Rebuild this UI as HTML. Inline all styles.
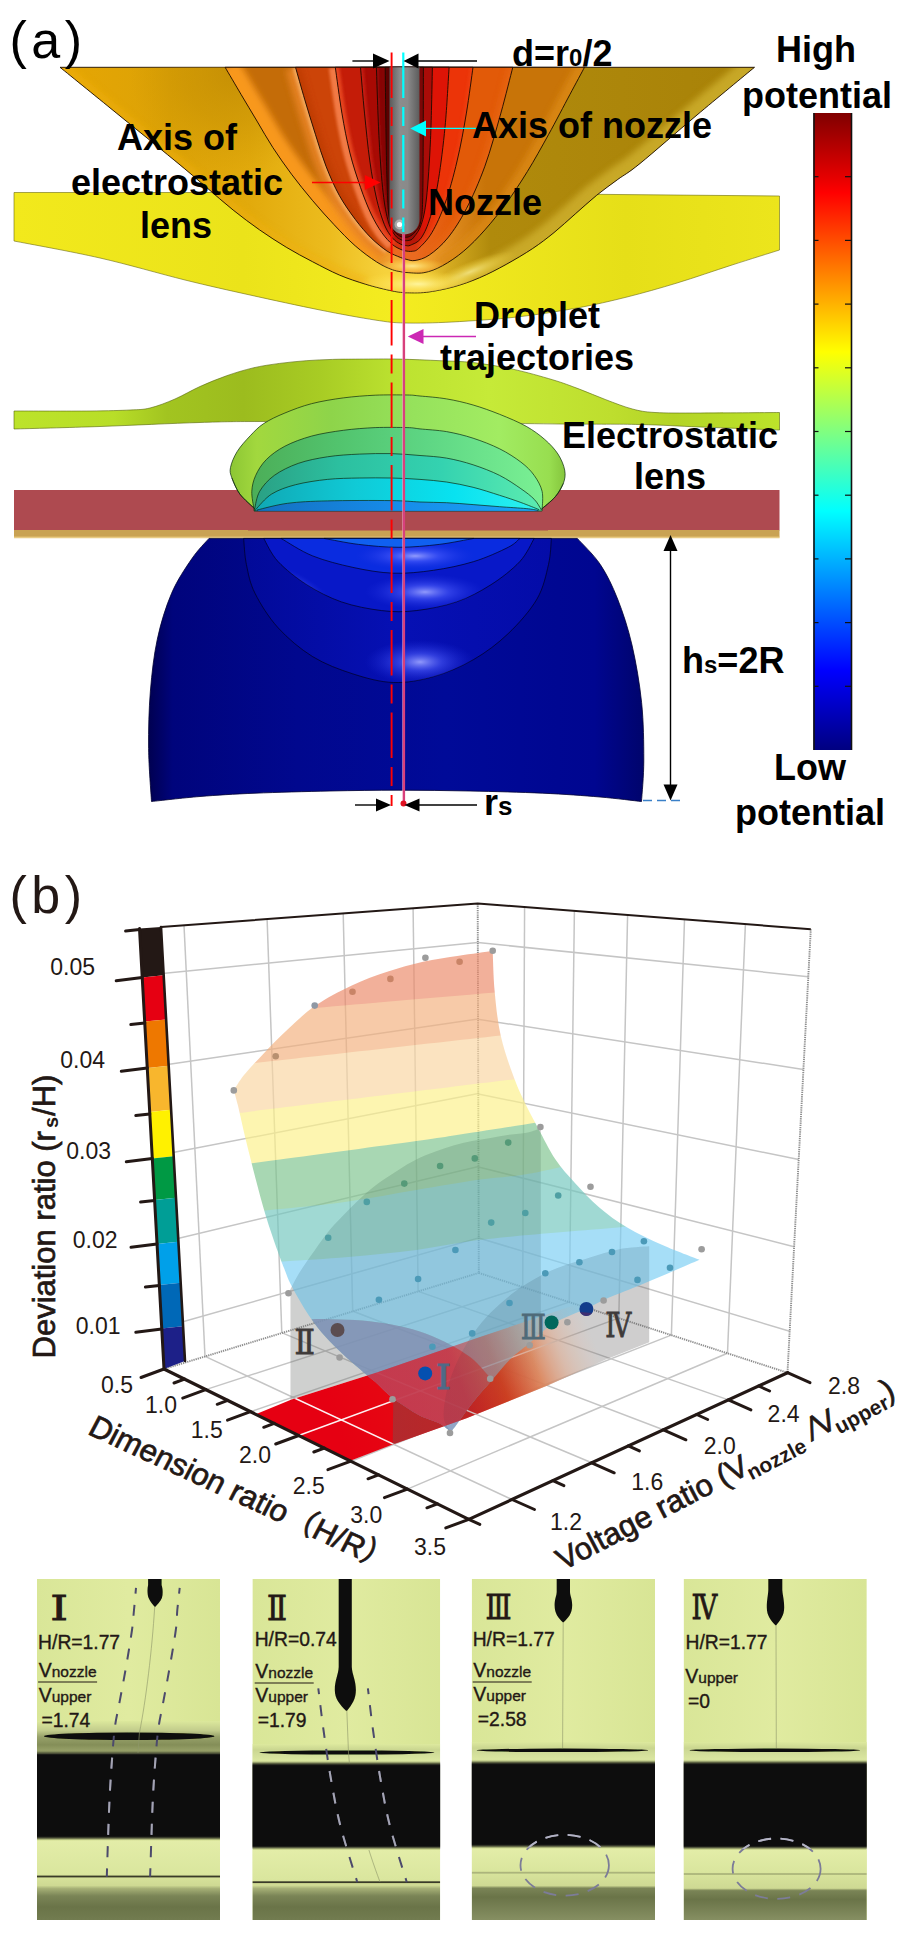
<!DOCTYPE html>
<html><head><meta charset="utf-8"><title>Figure</title>
<style>html,body{margin:0;padding:0;background:#fff}svg{display:block}</style></head>
<body><svg width="904" height="1935" viewBox="0 0 904 1935">
<defs>
<linearGradient id="jet" x1="0" y1="0" x2="0" y2="1">
<stop offset="0" stop-color="#800000"/><stop offset="0.11" stop-color="#ee0000"/><stop offset="0.125" stop-color="#ff0000"/>
<stop offset="0.375" stop-color="#ffff00"/><stop offset="0.5" stop-color="#80ff80"/><stop offset="0.625" stop-color="#00ffff"/>
<stop offset="0.875" stop-color="#0000ff"/><stop offset="1" stop-color="#000080"/></linearGradient>
<linearGradient id="gYel" x1="0" y1="0" x2="1" y2="0">
<stop offset="0" stop-color="#f2e91c"/><stop offset="0.3" stop-color="#ebe31a"/><stop offset="0.5" stop-color="#f4ec20"/><stop offset="0.8" stop-color="#e6df18"/><stop offset="1" stop-color="#ece51c"/></linearGradient>
<linearGradient id="gNoz" x1="0" y1="0" x2="1" y2="0">
<stop offset="0" stop-color="#5a5a5a"/><stop offset="0.35" stop-color="#8c8c8c"/><stop offset="0.6" stop-color="#8a8a8a"/><stop offset="1" stop-color="#5c5c5c"/></linearGradient>
<radialGradient id="gGlow" cx="0.5" cy="0.5" r="0.5"><stop offset="0" stop-color="#fff6a0" stop-opacity="0.95"/><stop offset="0.5" stop-color="#ffe860" stop-opacity="0.5"/><stop offset="1" stop-color="#ffe040" stop-opacity="0"/></radialGradient>
<radialGradient id="gGlowB" cx="0.5" cy="0.5" r="0.5"><stop offset="0" stop-color="#98a0ff" stop-opacity="0.95"/><stop offset="0.4" stop-color="#5060ff" stop-opacity="0.55"/><stop offset="1" stop-color="#2030e0" stop-opacity="0"/></radialGradient>
<linearGradient id="gSheet2" gradientUnits="userSpaceOnUse" x1="14" y1="0" x2="780" y2="0">
<stop offset="0" stop-color="#bce32a"/><stop offset="0.13" stop-color="#b8de28"/><stop offset="0.2" stop-color="#a2c420"/><stop offset="0.3" stop-color="#9cbc1e"/><stop offset="0.4" stop-color="#a8cc24"/><stop offset="0.5" stop-color="#bce230"/><stop offset="0.62" stop-color="#c6ea38"/><stop offset="0.78" stop-color="#bede2e"/><stop offset="0.86" stop-color="#b4d426"/><stop offset="1" stop-color="#bce32a"/></linearGradient>

<linearGradient id="f8" gradientUnits="userSpaceOnUse" x1="60" y1="0" x2="754" y2="0"><stop offset="0.0000" stop-color="#e6a604"/><stop offset="0.0720" stop-color="#e0a404"/><stop offset="0.1585" stop-color="#dba106"/><stop offset="0.2450" stop-color="#e0a80a"/><stop offset="0.3458" stop-color="#e9b616"/><stop offset="0.4323" stop-color="#f1c62a"/><stop offset="0.4971" stop-color="#f8da48"/><stop offset="0.5620" stop-color="#eec632"/><stop offset="0.6340" stop-color="#d0a41c"/><stop offset="0.7205" stop-color="#b48a10"/><stop offset="0.8069" stop-color="#a8820a"/><stop offset="0.9222" stop-color="#a47e08"/><stop offset="1.0000" stop-color="#a88208"/></linearGradient>
<linearGradient id="f7" gradientUnits="userSpaceOnUse" x1="60" y1="0" x2="754" y2="0"><stop offset="0.2378" stop-color="#d07010"/><stop offset="0.2738" stop-color="#ee8c22"/><stop offset="0.3026" stop-color="#e27c16"/><stop offset="0.3458" stop-color="#c8600a"/><stop offset="0.4035" stop-color="#d8700e"/><stop offset="0.4611" stop-color="#f09428"/><stop offset="0.4971" stop-color="#f6a838"/><stop offset="0.5476" stop-color="#ea8c20"/><stop offset="0.6052" stop-color="#d67410"/><stop offset="0.6772" stop-color="#c96a0a"/><stop offset="0.7550" stop-color="#c06808"/></linearGradient>
<linearGradient id="f6" gradientUnits="userSpaceOnUse" x1="60" y1="0" x2="754" y2="0"><stop offset="0.3386" stop-color="#c84808"/><stop offset="0.3602" stop-color="#e66c28"/><stop offset="0.3775" stop-color="#dc5416"/><stop offset="0.4107" stop-color="#c03a08"/><stop offset="0.4611" stop-color="#e05818"/><stop offset="0.4971" stop-color="#f07c28"/><stop offset="0.5331" stop-color="#ee5a14"/><stop offset="0.5908" stop-color="#e84a0c"/><stop offset="0.6513" stop-color="#e04c0a"/></linearGradient>
<linearGradient id="f5" gradientUnits="userSpaceOnUse" x1="60" y1="0" x2="754" y2="0"><stop offset="0.3963" stop-color="#c82410"/><stop offset="0.4107" stop-color="#d83418"/><stop offset="0.4323" stop-color="#c01c0c"/><stop offset="0.4683" stop-color="#d02c10"/><stop offset="0.4971" stop-color="#ee5818"/><stop offset="0.5259" stop-color="#f03010"/><stop offset="0.5620" stop-color="#f02a0c"/><stop offset="0.5951" stop-color="#ea2e0a"/></linearGradient>
<linearGradient id="f4" gradientUnits="userSpaceOnUse" x1="60" y1="0" x2="754" y2="0"><stop offset="0.4323" stop-color="#a81008"/><stop offset="0.4438" stop-color="#c01810"/><stop offset="0.4611" stop-color="#a00c08"/><stop offset="0.4971" stop-color="#e03010"/><stop offset="0.5259" stop-color="#e41408"/><stop offset="0.5605" stop-color="#e21008"/></linearGradient>
<linearGradient id="f3" gradientUnits="userSpaceOnUse" x1="60" y1="0" x2="754" y2="0"><stop offset="0.4553" stop-color="#8c0a08"/><stop offset="0.4640" stop-color="#a81010"/><stop offset="0.4755" stop-color="#7c0606"/><stop offset="0.4971" stop-color="#c82010"/><stop offset="0.5187" stop-color="#b80c08"/><stop offset="0.5360" stop-color="#c00c0a"/></linearGradient>
<linearGradient id="f2" gradientUnits="userSpaceOnUse" x1="60" y1="0" x2="754" y2="0"><stop offset="0.4683" stop-color="#6a0505"/><stop offset="0.4741" stop-color="#5a0303"/><stop offset="0.4971" stop-color="#a01008"/><stop offset="0.5173" stop-color="#7a0505"/><stop offset="0.5231" stop-color="#8a0808"/></linearGradient>
<filter id="fb4" x="-20%" y="-20%" width="140%" height="140%"><feGaussianBlur stdDeviation="3.2"/></filter>
<filter id="fb2" x="-20%" y="-20%" width="140%" height="140%"><feGaussianBlur stdDeviation="1.6"/></filter>
<linearGradient id="g8" gradientUnits="userSpaceOnUse" x1="60" y1="0" x2="754.5" y2="0"><stop offset="0.0000" stop-color="#e6a604"/><stop offset="0.1584" stop-color="#dca206"/><stop offset="0.2736" stop-color="#e2aa0c"/><stop offset="0.3888" stop-color="#ecbc1e"/><stop offset="0.4680" stop-color="#f6d23c"/><stop offset="0.5184" stop-color="#f6d23c"/><stop offset="0.5616" stop-color="#d4aa20"/><stop offset="0.6192" stop-color="#b08a0c"/><stop offset="0.9993" stop-color="#a88208"/></linearGradient>
<radialGradient id="gDk8" gradientUnits="userSpaceOnUse" cx="235" cy="70" r="105"><stop offset="0" stop-color="#b07c00" stop-opacity="0.55"/><stop offset="0.5" stop-color="#b88400" stop-opacity="0.35"/><stop offset="1" stop-color="#c08c00" stop-opacity="0"/></radialGradient>
<linearGradient id="g7" gradientUnits="userSpaceOnUse" x1="225.1" y1="0" x2="584.5" y2="0"><stop offset="0.0000" stop-color="#c46c08"/><stop offset="0.2753" stop-color="#c46c08"/><stop offset="0.4727" stop-color="#f4a234"/><stop offset="0.5284" stop-color="#f4a234"/><stop offset="0.7253" stop-color="#c87408"/><stop offset="1.0000" stop-color="#c87408"/></linearGradient>
<linearGradient id="g6" gradientUnits="userSpaceOnUse" x1="295.5" y1="0" x2="512.8" y2="0"><stop offset="0.0000" stop-color="#cc4408"/><stop offset="0.2772" stop-color="#cc4408"/><stop offset="0.4579" stop-color="#ea6a20"/><stop offset="0.5499" stop-color="#ea6a20"/><stop offset="0.7272" stop-color="#e25a08"/><stop offset="1.0000" stop-color="#e25a08"/></linearGradient>
<linearGradient id="g5" gradientUnits="userSpaceOnUse" x1="335.3" y1="0" x2="473" y2="0"><stop offset="0.0000" stop-color="#c41c08"/><stop offset="0.2784" stop-color="#c41c08"/><stop offset="0.4336" stop-color="#d63410"/><stop offset="0.5788" stop-color="#d63410"/><stop offset="0.7284" stop-color="#ec3408"/><stop offset="1.0000" stop-color="#ec3408"/></linearGradient>
<linearGradient id="g4" gradientUnits="userSpaceOnUse" x1="360.5" y1="0" x2="449.1" y2="0"><stop offset="0.0000" stop-color="#a80a04"/><stop offset="0.2762" stop-color="#a80a04"/><stop offset="0.3894" stop-color="#b81608"/><stop offset="0.6151" stop-color="#b81608"/><stop offset="0.7262" stop-color="#de1406"/><stop offset="1.0000" stop-color="#de1406"/></linearGradient>
<linearGradient id="g3" gradientUnits="userSpaceOnUse" x1="376.4" y1="0" x2="432.4" y2="0"><stop offset="0.0000" stop-color="#860404"/><stop offset="0.2809" stop-color="#860404"/><stop offset="0.3321" stop-color="#980a08"/><stop offset="0.6893" stop-color="#980a08"/><stop offset="0.7309" stop-color="#aa0c08"/><stop offset="1.0000" stop-color="#aa0c08"/></linearGradient>
<linearGradient id="g2" gradientUnits="userSpaceOnUse" x1="385.2" y1="0" x2="423.4" y2="0"><stop offset="0.0000" stop-color="#5c0000"/><stop offset="0.2851" stop-color="#5c0000"/><stop offset="0.2565" stop-color="#700404"/><stop offset="0.7801" stop-color="#700404"/><stop offset="0.7351" stop-color="#7c0606"/><stop offset="1.0000" stop-color="#7c0606"/></linearGradient>
<linearGradient id="d1" gradientUnits="userSpaceOnUse" x1="230" y1="0" x2="566" y2="0"><stop offset="0" stop-color="#8cc634"/><stop offset="0.08" stop-color="#a2d83e"/><stop offset="0.3" stop-color="#8ed44a"/><stop offset="0.55" stop-color="#96e25c"/><stop offset="0.8" stop-color="#a2ec62"/><stop offset="0.95" stop-color="#98de50"/><stop offset="1" stop-color="#84c43c"/></linearGradient>
<linearGradient id="d2" gradientUnits="userSpaceOnUse" x1="252" y1="0" x2="543" y2="0"><stop offset="0" stop-color="#4cae58"/><stop offset="0.3" stop-color="#52c46e"/><stop offset="0.6" stop-color="#5ed684"/><stop offset="1" stop-color="#7af094"/></linearGradient>
<linearGradient id="d3" gradientUnits="userSpaceOnUse" x1="255" y1="0" x2="541" y2="0"><stop offset="0" stop-color="#2aa084"/><stop offset="0.3" stop-color="#2cc0a0"/><stop offset="0.65" stop-color="#34d2b0"/><stop offset="1" stop-color="#5cecb0"/></linearGradient>
<linearGradient id="d4" gradientUnits="userSpaceOnUse" x1="256" y1="0" x2="539" y2="0"><stop offset="0" stop-color="#10a8b4"/><stop offset="0.35" stop-color="#10cad6"/><stop offset="0.7" stop-color="#08e2f0"/><stop offset="1" stop-color="#30f0ee"/></linearGradient>
<linearGradient id="d5" gradientUnits="userSpaceOnUse" x1="257" y1="0" x2="538" y2="0"><stop offset="0" stop-color="#1470c0"/><stop offset="0.5" stop-color="#168cea"/><stop offset="1" stop-color="#1ca4f4"/></linearGradient>
<linearGradient id="b0" gradientUnits="userSpaceOnUse" x1="148" y1="0" x2="644" y2="0"><stop offset="0" stop-color="#000050"/><stop offset="0.05" stop-color="#00047c"/><stop offset="0.3" stop-color="#01088e"/><stop offset="0.6" stop-color="#000a98"/><stop offset="0.9" stop-color="#000690"/><stop offset="1" stop-color="#00046c"/></linearGradient>
<linearGradient id="bA" gradientUnits="userSpaceOnUse" x1="243" y1="0" x2="552" y2="0"><stop offset="0" stop-color="#020a98"/><stop offset="0.5" stop-color="#0610b4"/><stop offset="1" stop-color="#040ca8"/></linearGradient>
<linearGradient id="gRed" gradientUnits="userSpaceOnUse" x1="350" y1="1461" x2="640" y2="1346"><stop offset="0" stop-color="#e60012"/><stop offset="0.42" stop-color="#e60f12"/><stop offset="0.545" stop-color="#e73e1a"/><stop offset="0.665" stop-color="#ee8c5c" stop-opacity="0.9"/><stop offset="0.76" stop-color="#f4b898" stop-opacity="0.5"/><stop offset="0.87" stop-color="#f6d0bc" stop-opacity="0"/></linearGradient>
<linearGradient id="gWl" gradientUnits="userSpaceOnUse" x1="350" y1="1461" x2="640" y2="1346"><stop offset="0" stop-color="#fff" stop-opacity="0.95"/><stop offset="0.5" stop-color="#fff" stop-opacity="0.9"/><stop offset="0.8" stop-color="#fff" stop-opacity="0"/></linearGradient>
<linearGradient id="gDull" gradientUnits="userSpaceOnUse" x1="392" y1="0" x2="540" y2="0"><stop offset="0" stop-color="#7a6a60" stop-opacity="0.36"/><stop offset="0.45" stop-color="#7a6a60" stop-opacity="0.28"/><stop offset="1" stop-color="#7a6a60" stop-opacity="0"/></linearGradient>
<linearGradient id="pbg" x1="0" y1="0" x2="1" y2="0"><stop offset="0" stop-color="#d9e698"/><stop offset="0.5" stop-color="#e0eba0"/><stop offset="1" stop-color="#d8e595"/></linearGradient>
<filter id="bl1" x="-5%" y="-50%" width="110%" height="200%"><feGaussianBlur stdDeviation="1.1"/></filter>
<filter id="bl2" x="-5%" y="-50%" width="110%" height="200%"><feGaussianBlur stdDeviation="0.7"/></filter>
<linearGradient id="sh0" gradientUnits="userSpaceOnUse" x1="0" y1="1721.0" x2="0" y2="1752.8"><stop offset="0" stop-color="#dce89c"/><stop offset="0.3" stop-color="#c2cc8c"/><stop offset="0.5" stop-color="#98a26a"/><stop offset="0.75" stop-color="#848e58"/><stop offset="1" stop-color="#9ea86e"/></linearGradient>
<linearGradient id="lz0" gradientUnits="userSpaceOnUse" x1="0" y1="1840.5" x2="0" y2="1920"><stop offset="0" stop-color="#e3eda8"/><stop offset="0.415" stop-color="#dae69e"/><stop offset="0.566" stop-color="#ced993"/><stop offset="0.604" stop-color="#a6b076"/><stop offset="0.698" stop-color="#7a8456"/><stop offset="0.836" stop-color="#6a7448"/><stop offset="1" stop-color="#727c50"/></linearGradient>
<linearGradient id="sh1" gradientUnits="userSpaceOnUse" x1="0" y1="1744.0" x2="0" y2="1763.3"><stop offset="0" stop-color="#dde99e"/><stop offset="0.3" stop-color="#cad690"/><stop offset="0.5" stop-color="#d0dc98"/><stop offset="0.85" stop-color="#dae6a0"/><stop offset="1" stop-color="#c6d28e"/></linearGradient>
<linearGradient id="lz1" gradientUnits="userSpaceOnUse" x1="0" y1="1850.0" x2="0" y2="1920"><stop offset="0" stop-color="#e3eda8"/><stop offset="0.417" stop-color="#dae69e"/><stop offset="0.507" stop-color="#ced993"/><stop offset="0.550" stop-color="#a6b076"/><stop offset="0.657" stop-color="#7a8456"/><stop offset="0.814" stop-color="#6a7448"/><stop offset="1" stop-color="#727c50"/></linearGradient>
<linearGradient id="sh2" gradientUnits="userSpaceOnUse" x1="0" y1="1742.0" x2="0" y2="1762.3"><stop offset="0" stop-color="#dde99e"/><stop offset="0.3" stop-color="#cad690"/><stop offset="0.5" stop-color="#d0dc98"/><stop offset="0.85" stop-color="#dae6a0"/><stop offset="1" stop-color="#c6d28e"/></linearGradient>
<linearGradient id="lz2" gradientUnits="userSpaceOnUse" x1="0" y1="1848.6" x2="0" y2="1920"><stop offset="0" stop-color="#e3eda8"/><stop offset="0.296" stop-color="#dae69e"/><stop offset="0.521" stop-color="#ced993"/><stop offset="0.535" stop-color="#a6b076"/><stop offset="0.555" stop-color="#7a8456"/><stop offset="0.678" stop-color="#6a7448"/><stop offset="1" stop-color="#868f62"/></linearGradient>
<linearGradient id="sh3" gradientUnits="userSpaceOnUse" x1="0" y1="1742.0" x2="0" y2="1762.3"><stop offset="0" stop-color="#dde99e"/><stop offset="0.3" stop-color="#cad690"/><stop offset="0.5" stop-color="#d0dc98"/><stop offset="0.85" stop-color="#dae6a0"/><stop offset="1" stop-color="#c6d28e"/></linearGradient>
<linearGradient id="lz3" gradientUnits="userSpaceOnUse" x1="0" y1="1850.0" x2="0" y2="1920"><stop offset="0" stop-color="#e3eda8"/><stop offset="0.300" stop-color="#dae69e"/><stop offset="0.547" stop-color="#ced993"/><stop offset="0.561" stop-color="#a6b076"/><stop offset="0.581" stop-color="#7a8456"/><stop offset="0.707" stop-color="#6a7448"/><stop offset="1" stop-color="#868f62"/></linearGradient></defs>
<rect width="904" height="1935" fill="#fff"/>
<path d="M14,192.5 L400,192.5 L779.5,196 L779.5,250.0C771.6,252.5 749.1,259.5 732.0,265.0C714.9,270.5 694.5,277.7 677.0,283.0C659.5,288.3 643.7,292.8 627.0,297.0C610.3,301.2 595.3,304.7 577.0,308.0C558.7,311.3 537.8,314.7 517.0,317.0C496.2,319.3 470.7,321.0 452.0,322.0C433.3,323.0 417.8,323.3 405.0,323.0C392.2,322.7 389.2,322.2 375.0,320.0C360.8,317.8 340.8,314.2 320.0,310.0C299.2,305.8 272.5,300.0 250.0,295.0C227.5,290.0 210.0,286.2 185.0,280.0C160.0,273.8 128.5,264.5 100.0,258.0C71.5,251.5 28.3,243.8 14.0,241.0Z" fill="url(#gYel)" stroke="#6a6a10" stroke-width="0.6"/>
<path d="M60.0,67.3C70.0,75.4 100.0,99.7 120.0,116.0C140.0,132.3 165.6,153.0 180.0,164.9C194.4,176.8 197.7,179.9 206.5,187.4C215.3,194.9 224.2,202.9 233.1,210.0C241.9,217.1 250.8,223.7 259.6,229.9C268.5,236.1 277.4,241.9 286.2,247.2C295.0,252.5 303.8,257.2 312.7,261.8C321.6,266.4 330.4,271.2 339.3,275.0C348.2,278.8 357.0,281.6 365.8,284.3C374.6,287.0 385.8,289.6 392.4,291.0C399.0,292.4 403.4,292.5 405.6,292.8C409.1,292.7 418.6,293.3 426.5,292.3C434.4,291.3 444.2,289.4 453.1,287.0C462.0,284.6 470.8,281.5 479.6,277.7C488.5,273.9 497.3,269.3 506.2,264.4C515.0,259.5 524.7,253.8 532.7,248.5C540.7,243.2 546.9,238.3 554.0,232.6C561.1,226.8 568.1,220.2 575.2,214.0C582.3,207.8 589.4,201.2 596.5,195.4C603.6,189.7 610.5,184.8 617.7,179.5C625.0,174.2 626.8,174.2 640.0,163.5C653.2,152.8 677.9,131.0 697.0,115.0C716.1,99.0 744.9,75.2 754.5,67.3Z" fill="url(#g8)"/>
<clipPath id="cb8"><path d="M60.0,67.3C70.0,75.4 100.0,99.7 120.0,116.0C140.0,132.3 165.6,153.0 180.0,164.9C194.4,176.8 197.7,179.9 206.5,187.4C215.3,194.9 224.2,202.9 233.1,210.0C241.9,217.1 250.8,223.7 259.6,229.9C268.5,236.1 277.4,241.9 286.2,247.2C295.0,252.5 303.8,257.2 312.7,261.8C321.6,266.4 330.4,271.2 339.3,275.0C348.2,278.8 357.0,281.6 365.8,284.3C374.6,287.0 385.8,289.6 392.4,291.0C399.0,292.4 403.4,292.5 405.6,292.8C409.1,292.7 418.6,293.3 426.5,292.3C434.4,291.3 444.2,289.4 453.1,287.0C462.0,284.6 470.8,281.5 479.6,277.7C488.5,273.9 497.3,269.3 506.2,264.4C515.0,259.5 524.7,253.8 532.7,248.5C540.7,243.2 546.9,238.3 554.0,232.6C561.1,226.8 568.1,220.2 575.2,214.0C582.3,207.8 589.4,201.2 596.5,195.4C603.6,189.7 610.5,184.8 617.7,179.5C625.0,174.2 626.8,174.2 640.0,163.5C653.2,152.8 677.9,131.0 697.0,115.0C716.1,99.0 744.9,75.2 754.5,67.3Z"/></clipPath>
<g clip-path="url(#cb8)"><path d="M453.1,287.0C457.5,285.4 470.8,281.5 479.6,277.7C488.5,273.9 497.3,269.3 506.2,264.4C515.0,259.5 524.7,253.8 532.7,248.5C540.7,243.2 546.9,238.3 554.0,232.6C561.1,226.8 568.1,220.2 575.2,214.0C582.3,207.8 589.4,201.2 596.5,195.4C603.6,189.7 610.5,184.8 617.7,179.5C625.0,174.2 626.8,174.2 640.0,163.5C653.2,152.8 677.9,131.0 697.0,115.0C716.1,99.0 744.9,75.2 754.5,67.3" fill="none" stroke="#d2b430" stroke-width="26" opacity="0.75" filter="url(#fb4)"/><path d="M60.0,67.3C70.0,75.4 100.0,99.7 120.0,116.0C140.0,132.3 165.6,153.0 180.0,164.9C194.4,176.8 197.7,179.9 206.5,187.4C215.3,194.9 224.2,202.9 233.1,210.0C241.9,217.1 250.8,223.7 259.6,229.9C268.5,236.1 277.4,241.9 286.2,247.2C295.0,252.5 303.8,257.2 312.7,261.8C321.6,266.4 330.4,271.2 339.3,275.0C348.2,278.8 361.4,282.8 365.8,284.3" fill="none" stroke="#f0b008" stroke-width="14" opacity="0.5" filter="url(#fb4)"/></g>
<path d="M60.0,67.3C70.0,75.4 100.0,99.7 120.0,116.0C140.0,132.3 165.6,153.0 180.0,164.9C194.4,176.8 197.7,179.9 206.5,187.4C215.3,194.9 224.2,202.9 233.1,210.0C241.9,217.1 250.8,223.7 259.6,229.9C268.5,236.1 277.4,241.9 286.2,247.2C295.0,252.5 303.8,257.2 312.7,261.8C321.6,266.4 330.4,271.2 339.3,275.0C348.2,278.8 357.0,281.6 365.8,284.3C374.6,287.0 385.8,289.6 392.4,291.0C399.0,292.4 403.4,292.5 405.6,292.8C409.1,292.7 418.6,293.3 426.5,292.3C434.4,291.3 444.2,289.4 453.1,287.0C462.0,284.6 470.8,281.5 479.6,277.7C488.5,273.9 497.3,269.3 506.2,264.4C515.0,259.5 524.7,253.8 532.7,248.5C540.7,243.2 546.9,238.3 554.0,232.6C561.1,226.8 568.1,220.2 575.2,214.0C582.3,207.8 589.4,201.2 596.5,195.4C603.6,189.7 610.5,184.8 617.7,179.5C625.0,174.2 626.8,174.2 640.0,163.5C653.2,152.8 677.9,131.0 697.0,115.0C716.1,99.0 744.9,75.2 754.5,67.3Z" fill="none" stroke="#1a0a00" stroke-width="0.9"/>
<clipPath id="cp8"><path d="M60.0,67.3C70.0,75.4 100.0,99.7 120.0,116.0C140.0,132.3 165.6,153.0 180.0,164.9C194.4,176.8 197.7,179.9 206.5,187.4C215.3,194.9 224.2,202.9 233.1,210.0C241.9,217.1 250.8,223.7 259.6,229.9C268.5,236.1 277.4,241.9 286.2,247.2C295.0,252.5 303.8,257.2 312.7,261.8C321.6,266.4 330.4,271.2 339.3,275.0C348.2,278.8 357.0,281.6 365.8,284.3C374.6,287.0 385.8,289.6 392.4,291.0C399.0,292.4 403.4,292.5 405.6,292.8C409.1,292.7 418.6,293.3 426.5,292.3C434.4,291.3 444.2,289.4 453.1,287.0C462.0,284.6 470.8,281.5 479.6,277.7C488.5,273.9 497.3,269.3 506.2,264.4C515.0,259.5 524.7,253.8 532.7,248.5C540.7,243.2 546.9,238.3 554.0,232.6C561.1,226.8 568.1,220.2 575.2,214.0C582.3,207.8 589.4,201.2 596.5,195.4C603.6,189.7 610.5,184.8 617.7,179.5C625.0,174.2 626.8,174.2 640.0,163.5C653.2,152.8 677.9,131.0 697.0,115.0C716.1,99.0 744.9,75.2 754.5,67.3Z"/></clipPath>
<g clip-path="url(#cp8)"><ellipse cx="418" cy="284" rx="62" ry="13" fill="url(#gGlow)"/><ellipse cx="470" cy="272" rx="50" ry="10" transform="rotate(-22 470 272)" fill="url(#gGlow)" opacity="0.7"/></g>
<g clip-path="url(#cp8)"><circle cx="235" cy="70" r="105" fill="url(#gDk8)"/></g>
<path d="M225.1,67.3C227.8,71.8 235.8,85.5 241.1,94.5C246.4,103.5 251.7,112.2 257.0,121.1C262.3,129.9 267.1,138.8 272.9,147.6C278.6,156.4 284.9,165.3 291.5,174.2C298.1,183.0 305.6,192.3 312.7,200.7C319.8,209.1 326.9,217.1 334.0,224.6C341.1,232.1 348.1,239.6 355.2,245.8C362.3,252.0 370.2,257.8 376.4,261.8C382.6,265.8 387.5,267.9 392.4,269.7C397.3,271.5 403.4,272.0 405.6,272.5C408.7,272.5 417.8,273.8 423.9,272.7C430.0,271.6 435.9,269.3 442.5,265.7C449.1,262.1 456.6,257.1 463.7,251.1C470.8,245.1 477.8,237.9 484.9,229.9C492.0,221.9 499.1,213.0 506.2,203.3C513.3,193.6 520.3,183.0 527.4,171.5C534.5,160.0 541.6,147.1 548.7,134.3C555.8,121.5 563.9,105.7 569.9,94.5C575.9,83.3 582.1,71.8 584.5,67.3Z" fill="url(#g7)"/>
<clipPath id="cb7"><path d="M225.1,67.3C227.8,71.8 235.8,85.5 241.1,94.5C246.4,103.5 251.7,112.2 257.0,121.1C262.3,129.9 267.1,138.8 272.9,147.6C278.6,156.4 284.9,165.3 291.5,174.2C298.1,183.0 305.6,192.3 312.7,200.7C319.8,209.1 326.9,217.1 334.0,224.6C341.1,232.1 348.1,239.6 355.2,245.8C362.3,252.0 370.2,257.8 376.4,261.8C382.6,265.8 387.5,267.9 392.4,269.7C397.3,271.5 403.4,272.0 405.6,272.5C408.7,272.5 417.8,273.8 423.9,272.7C430.0,271.6 435.9,269.3 442.5,265.7C449.1,262.1 456.6,257.1 463.7,251.1C470.8,245.1 477.8,237.9 484.9,229.9C492.0,221.9 499.1,213.0 506.2,203.3C513.3,193.6 520.3,183.0 527.4,171.5C534.5,160.0 541.6,147.1 548.7,134.3C555.8,121.5 563.9,105.7 569.9,94.5C575.9,83.3 582.1,71.8 584.5,67.3Z"/></clipPath>
<g clip-path="url(#cb7)"><path d="M225.1,67.3C227.8,71.8 235.8,85.5 241.1,94.5C246.4,103.5 251.7,112.2 257.0,121.1C262.3,129.9 267.1,138.8 272.9,147.6C278.6,156.4 284.9,165.3 291.5,174.2C298.1,183.0 305.6,192.3 312.7,200.7C319.8,209.1 326.9,217.1 334.0,224.6C341.1,232.1 348.1,239.6 355.2,245.8C362.3,252.0 372.9,259.1 376.4,261.8" fill="none" stroke="#f8981e" stroke-width="30" opacity="1" filter="url(#fb4)"/><path d="M295.5,67.3C297.1,72.7 301.5,88.6 304.8,99.8C308.1,111.0 311.9,123.2 315.4,134.3C318.9,145.4 322.0,156.0 326.0,166.2C330.0,176.4 334.4,186.6 339.3,195.4C344.2,204.2 349.9,212.2 355.2,219.3C360.5,226.4 365.8,232.6 371.1,237.9C376.4,243.2 384.4,248.9 387.1,251.1" fill="none" stroke="#e88428" stroke-width="20" opacity="0.9" filter="url(#fb4)"/><path d="M295.5,67.3C297.1,72.7 301.5,88.6 304.8,99.8C308.1,111.0 311.9,123.2 315.4,134.3C318.9,145.4 322.0,156.0 326.0,166.2C330.0,176.4 334.4,186.6 339.3,195.4C344.2,204.2 349.9,212.2 355.2,219.3C360.5,226.4 365.8,232.6 371.1,237.9C376.4,243.2 384.4,248.9 387.1,251.1" fill="none" stroke="#f6ac62" stroke-width="6" opacity="0.9" filter="url(#fb2)"/><path d="M442.5,265.7C446.0,263.3 456.6,257.1 463.7,251.1C470.8,245.1 477.8,237.9 484.9,229.9C492.0,221.9 499.1,213.0 506.2,203.3C513.3,193.6 520.3,183.0 527.4,171.5C534.5,160.0 541.6,147.1 548.7,134.3C555.8,121.5 563.9,105.7 569.9,94.5C575.9,83.3 582.1,71.8 584.5,67.3" fill="none" stroke="#dc8a18" stroke-width="18" opacity="0.8" filter="url(#fb4)"/></g>
<path d="M225.1,67.3C227.8,71.8 235.8,85.5 241.1,94.5C246.4,103.5 251.7,112.2 257.0,121.1C262.3,129.9 267.1,138.8 272.9,147.6C278.6,156.4 284.9,165.3 291.5,174.2C298.1,183.0 305.6,192.3 312.7,200.7C319.8,209.1 326.9,217.1 334.0,224.6C341.1,232.1 348.1,239.6 355.2,245.8C362.3,252.0 370.2,257.8 376.4,261.8C382.6,265.8 387.5,267.9 392.4,269.7C397.3,271.5 403.4,272.0 405.6,272.5C408.7,272.5 417.8,273.8 423.9,272.7C430.0,271.6 435.9,269.3 442.5,265.7C449.1,262.1 456.6,257.1 463.7,251.1C470.8,245.1 477.8,237.9 484.9,229.9C492.0,221.9 499.1,213.0 506.2,203.3C513.3,193.6 520.3,183.0 527.4,171.5C534.5,160.0 541.6,147.1 548.7,134.3C555.8,121.5 563.9,105.7 569.9,94.5C575.9,83.3 582.1,71.8 584.5,67.3Z" fill="none" stroke="#1a0a00" stroke-width="0.9"/>
<g clip-path="url(#cb7)"><ellipse cx="412" cy="266" rx="34" ry="8" fill="url(#gGlow)" opacity="0.85"/></g>
<path d="M295.5,67.3C297.1,72.7 301.5,88.6 304.8,99.8C308.1,111.0 311.9,123.2 315.4,134.3C318.9,145.4 322.0,156.0 326.0,166.2C330.0,176.4 334.4,186.6 339.3,195.4C344.2,204.2 349.9,212.2 355.2,219.3C360.5,226.4 365.8,232.6 371.1,237.9C376.4,243.2 382.2,247.8 387.1,251.1C392.0,254.3 397.0,256.0 400.3,257.4C403.6,258.8 405.9,259.1 407.0,259.5C408.3,259.7 411.3,261.2 415.0,260.5C418.7,259.8 423.7,258.9 429.2,255.1C434.7,251.3 441.6,245.6 447.8,237.9C454.0,230.2 460.2,220.6 466.4,208.7C472.6,196.8 479.1,182.1 484.9,166.2C490.6,150.3 496.2,129.6 500.9,113.1C505.5,96.6 510.8,74.9 512.8,67.3Z" fill="url(#g6)"/>
<clipPath id="cb6"><path d="M295.5,67.3C297.1,72.7 301.5,88.6 304.8,99.8C308.1,111.0 311.9,123.2 315.4,134.3C318.9,145.4 322.0,156.0 326.0,166.2C330.0,176.4 334.4,186.6 339.3,195.4C344.2,204.2 349.9,212.2 355.2,219.3C360.5,226.4 365.8,232.6 371.1,237.9C376.4,243.2 382.2,247.8 387.1,251.1C392.0,254.3 397.0,256.0 400.3,257.4C403.6,258.8 405.9,259.1 407.0,259.5C408.3,259.7 411.3,261.2 415.0,260.5C418.7,259.8 423.7,258.9 429.2,255.1C434.7,251.3 441.6,245.6 447.8,237.9C454.0,230.2 460.2,220.6 466.4,208.7C472.6,196.8 479.1,182.1 484.9,166.2C490.6,150.3 496.2,129.6 500.9,113.1C505.5,96.6 510.8,74.9 512.8,67.3Z"/></clipPath>
<g clip-path="url(#cb6)"><path d="M295.5,67.3C297.1,72.7 301.5,88.6 304.8,99.8C308.1,111.0 311.9,123.2 315.4,134.3C318.9,145.4 322.0,156.0 326.0,166.2C330.0,176.4 334.4,186.6 339.3,195.4C344.2,204.2 349.9,212.2 355.2,219.3C360.5,226.4 365.8,232.6 371.1,237.9C376.4,243.2 384.4,248.9 387.1,251.1" fill="none" stroke="#bc3a06" stroke-width="10" opacity="0.8" filter="url(#fb4)"/><path d="M335.3,67.3C336.4,74.9 339.5,98.8 341.9,113.1C344.3,127.4 346.8,140.5 349.9,152.9C353.0,165.3 357.0,177.2 360.5,187.4C364.0,197.6 367.6,206.5 371.1,214.0C374.7,221.5 378.2,227.5 381.8,232.6C385.4,237.7 390.6,242.5 392.4,244.5" fill="none" stroke="#f47e4a" stroke-width="13" opacity="0.95" filter="url(#fb2)"/><path d="M429.2,255.1C432.3,252.2 441.6,245.6 447.8,237.9C454.0,230.2 460.2,220.6 466.4,208.7C472.6,196.8 479.1,182.1 484.9,166.2C490.6,150.3 496.2,129.6 500.9,113.1C505.5,96.6 510.8,74.9 512.8,67.3" fill="none" stroke="#ea6a14" stroke-width="10" opacity="0.6" filter="url(#fb4)"/></g>
<path d="M295.5,67.3C297.1,72.7 301.5,88.6 304.8,99.8C308.1,111.0 311.9,123.2 315.4,134.3C318.9,145.4 322.0,156.0 326.0,166.2C330.0,176.4 334.4,186.6 339.3,195.4C344.2,204.2 349.9,212.2 355.2,219.3C360.5,226.4 365.8,232.6 371.1,237.9C376.4,243.2 382.2,247.8 387.1,251.1C392.0,254.3 397.0,256.0 400.3,257.4C403.6,258.8 405.9,259.1 407.0,259.5C408.3,259.7 411.3,261.2 415.0,260.5C418.7,259.8 423.7,258.9 429.2,255.1C434.7,251.3 441.6,245.6 447.8,237.9C454.0,230.2 460.2,220.6 466.4,208.7C472.6,196.8 479.1,182.1 484.9,166.2C490.6,150.3 496.2,129.6 500.9,113.1C505.5,96.6 510.8,74.9 512.8,67.3Z" fill="none" stroke="#1a0a00" stroke-width="0.9"/>
<path d="M335.3,67.3C336.4,74.9 339.5,98.8 341.9,113.1C344.3,127.4 346.8,140.5 349.9,152.9C353.0,165.3 357.0,177.2 360.5,187.4C364.0,197.6 367.6,206.5 371.1,214.0C374.7,221.5 378.2,227.5 381.8,232.6C385.4,237.7 389.2,241.7 392.4,244.5C395.6,247.3 398.7,248.4 401.0,249.5C403.3,250.6 405.2,250.8 406.0,251.0C407.0,251.1 409.9,251.7 412.0,251.3C414.1,250.9 415.3,251.6 418.6,248.5C421.9,245.4 427.5,240.1 431.9,232.6C436.3,225.1 440.9,215.2 445.1,203.3C449.3,191.4 453.6,175.9 457.1,160.9C460.7,145.9 463.8,128.7 466.4,113.1C469.0,97.5 471.9,74.9 473.0,67.3Z" fill="url(#g5)"/>
<clipPath id="cb5"><path d="M335.3,67.3C336.4,74.9 339.5,98.8 341.9,113.1C344.3,127.4 346.8,140.5 349.9,152.9C353.0,165.3 357.0,177.2 360.5,187.4C364.0,197.6 367.6,206.5 371.1,214.0C374.7,221.5 378.2,227.5 381.8,232.6C385.4,237.7 389.2,241.7 392.4,244.5C395.6,247.3 398.7,248.4 401.0,249.5C403.3,250.6 405.2,250.8 406.0,251.0C407.0,251.1 409.9,251.7 412.0,251.3C414.1,250.9 415.3,251.6 418.6,248.5C421.9,245.4 427.5,240.1 431.9,232.6C436.3,225.1 440.9,215.2 445.1,203.3C449.3,191.4 453.6,175.9 457.1,160.9C460.7,145.9 463.8,128.7 466.4,113.1C469.0,97.5 471.9,74.9 473.0,67.3Z"/></clipPath>
<g clip-path="url(#cb5)"><path d="M335.3,67.3C336.4,74.9 339.5,98.8 341.9,113.1C344.3,127.4 346.8,140.5 349.9,152.9C353.0,165.3 357.0,177.2 360.5,187.4C364.0,197.6 367.6,206.5 371.1,214.0C374.7,221.5 378.2,227.5 381.8,232.6C385.4,237.7 390.6,242.5 392.4,244.5" fill="none" stroke="#ea4a22" stroke-width="8" opacity="0.9" filter="url(#fb2)"/><path d="M418.6,248.5C420.8,245.8 427.5,240.1 431.9,232.6C436.3,225.1 440.9,215.2 445.1,203.3C449.3,191.4 453.6,175.9 457.1,160.9C460.7,145.9 463.8,128.7 466.4,113.1C469.0,97.5 471.9,74.9 473.0,67.3" fill="none" stroke="#f24a18" stroke-width="6" opacity="0.5" filter="url(#fb2)"/></g>
<path d="M335.3,67.3C336.4,74.9 339.5,98.8 341.9,113.1C344.3,127.4 346.8,140.5 349.9,152.9C353.0,165.3 357.0,177.2 360.5,187.4C364.0,197.6 367.6,206.5 371.1,214.0C374.7,221.5 378.2,227.5 381.8,232.6C385.4,237.7 389.2,241.7 392.4,244.5C395.6,247.3 398.7,248.4 401.0,249.5C403.3,250.6 405.2,250.8 406.0,251.0C407.0,251.1 409.9,251.7 412.0,251.3C414.1,250.9 415.3,251.6 418.6,248.5C421.9,245.4 427.5,240.1 431.9,232.6C436.3,225.1 440.9,215.2 445.1,203.3C449.3,191.4 453.6,175.9 457.1,160.9C460.7,145.9 463.8,128.7 466.4,113.1C469.0,97.5 471.9,74.9 473.0,67.3Z" fill="none" stroke="#1a0a00" stroke-width="0.9"/>
<path d="M360.5,67.3C361.2,74.9 362.9,97.5 364.5,113.1C366.1,128.7 367.8,146.8 369.8,160.9C371.8,175.1 374.0,187.4 376.4,198.0C378.8,208.6 381.7,217.9 384.4,224.6C387.1,231.2 389.8,234.7 392.4,237.9C395.0,241.1 398.1,242.7 400.3,244.0C402.5,245.3 404.7,245.2 405.6,245.5C406.4,245.4 408.0,246.5 410.6,245.2C413.2,243.9 417.9,242.7 421.2,237.9C424.5,233.1 427.6,226.3 430.5,216.6C433.4,206.9 436.1,194.5 438.5,179.5C440.9,164.5 443.3,145.1 445.1,126.4C446.9,107.7 448.4,77.2 449.1,67.3Z" fill="url(#g4)"/>
<clipPath id="cb4"><path d="M360.5,67.3C361.2,74.9 362.9,97.5 364.5,113.1C366.1,128.7 367.8,146.8 369.8,160.9C371.8,175.1 374.0,187.4 376.4,198.0C378.8,208.6 381.7,217.9 384.4,224.6C387.1,231.2 389.8,234.7 392.4,237.9C395.0,241.1 398.1,242.7 400.3,244.0C402.5,245.3 404.7,245.2 405.6,245.5C406.4,245.4 408.0,246.5 410.6,245.2C413.2,243.9 417.9,242.7 421.2,237.9C424.5,233.1 427.6,226.3 430.5,216.6C433.4,206.9 436.1,194.5 438.5,179.5C440.9,164.5 443.3,145.1 445.1,126.4C446.9,107.7 448.4,77.2 449.1,67.3Z"/></clipPath>
<g clip-path="url(#cb4)"><path d="M360.5,67.3C361.2,74.9 362.9,97.5 364.5,113.1C366.1,128.7 367.8,146.8 369.8,160.9C371.8,175.1 374.0,187.4 376.4,198.0C378.8,208.6 381.7,217.9 384.4,224.6C387.1,231.2 391.1,235.7 392.4,237.9" fill="none" stroke="#cc2012" stroke-width="6" opacity="0.9" filter="url(#fb2)"/></g>
<path d="M360.5,67.3C361.2,74.9 362.9,97.5 364.5,113.1C366.1,128.7 367.8,146.8 369.8,160.9C371.8,175.1 374.0,187.4 376.4,198.0C378.8,208.6 381.7,217.9 384.4,224.6C387.1,231.2 389.8,234.7 392.4,237.9C395.0,241.1 398.1,242.7 400.3,244.0C402.5,245.3 404.7,245.2 405.6,245.5C406.4,245.4 408.0,246.5 410.6,245.2C413.2,243.9 417.9,242.7 421.2,237.9C424.5,233.1 427.6,226.3 430.5,216.6C433.4,206.9 436.1,194.5 438.5,179.5C440.9,164.5 443.3,145.1 445.1,126.4C446.9,107.7 448.4,77.2 449.1,67.3Z" fill="none" stroke="#1a0a00" stroke-width="0.9"/>
<path d="M376.4,67.3C376.8,79.3 378.0,118.7 379.1,139.6C380.2,160.5 381.6,179.0 383.1,192.7C384.7,206.4 386.4,214.8 388.4,221.9C390.4,229.0 392.9,232.2 395.0,235.2C397.1,238.2 399.3,238.8 401.0,239.7C402.7,240.6 404.3,240.5 405.0,240.7C405.7,240.6 407.6,240.8 409.0,240.3C410.4,239.8 411.3,240.5 413.3,237.9C415.3,235.3 419.0,231.2 421.2,224.6C423.4,217.9 424.9,212.2 426.5,198.0C428.1,183.8 429.5,161.4 430.5,139.6C431.5,117.8 432.1,79.3 432.4,67.3Z" fill="url(#g3)"/>
<clipPath id="cb3"><path d="M376.4,67.3C376.8,79.3 378.0,118.7 379.1,139.6C380.2,160.5 381.6,179.0 383.1,192.7C384.7,206.4 386.4,214.8 388.4,221.9C390.4,229.0 392.9,232.2 395.0,235.2C397.1,238.2 399.3,238.8 401.0,239.7C402.7,240.6 404.3,240.5 405.0,240.7C405.7,240.6 407.6,240.8 409.0,240.3C410.4,239.8 411.3,240.5 413.3,237.9C415.3,235.3 419.0,231.2 421.2,224.6C423.4,217.9 424.9,212.2 426.5,198.0C428.1,183.8 429.5,161.4 430.5,139.6C431.5,117.8 432.1,79.3 432.4,67.3Z"/></clipPath>
<g clip-path="url(#cb3)"><path d="M376.4,67.3C376.8,79.3 378.0,118.7 379.1,139.6C380.2,160.5 381.6,179.0 383.1,192.7C384.7,206.4 386.4,214.8 388.4,221.9C390.4,229.0 393.9,233.0 395.0,235.2" fill="none" stroke="#a01010" stroke-width="4" opacity="0.8" filter="url(#fb2)"/></g>
<path d="M376.4,67.3C376.8,79.3 378.0,118.7 379.1,139.6C380.2,160.5 381.6,179.0 383.1,192.7C384.7,206.4 386.4,214.8 388.4,221.9C390.4,229.0 392.9,232.2 395.0,235.2C397.1,238.2 399.3,238.8 401.0,239.7C402.7,240.6 404.3,240.5 405.0,240.7C405.7,240.6 407.6,240.8 409.0,240.3C410.4,239.8 411.3,240.5 413.3,237.9C415.3,235.3 419.0,231.2 421.2,224.6C423.4,217.9 424.9,212.2 426.5,198.0C428.1,183.8 429.5,161.4 430.5,139.6C431.5,117.8 432.1,79.3 432.4,67.3Z" fill="none" stroke="#1a0a00" stroke-width="0.9"/>
<path d="M385.2,67.3C385.4,83.8 386.0,141.8 386.6,166.2C387.2,190.6 387.6,203.4 388.7,214.0C389.8,224.6 391.7,226.2 393.5,229.9C395.3,233.6 397.9,234.7 399.7,236.0C401.5,237.3 403.7,237.2 404.5,237.5C405.3,237.3 407.8,237.4 409.5,236.5C411.2,235.6 413.1,234.4 415.0,232.0C416.9,229.6 419.3,228.5 420.6,221.9C421.9,215.3 422.3,218.5 422.8,192.7C423.3,166.9 423.3,88.2 423.4,67.3Z" fill="url(#g2)"/>
<clipPath id="cb2"><path d="M385.2,67.3C385.4,83.8 386.0,141.8 386.6,166.2C387.2,190.6 387.6,203.4 388.7,214.0C389.8,224.6 391.7,226.2 393.5,229.9C395.3,233.6 397.9,234.7 399.7,236.0C401.5,237.3 403.7,237.2 404.5,237.5C405.3,237.3 407.8,237.4 409.5,236.5C411.2,235.6 413.1,234.4 415.0,232.0C416.9,229.6 419.3,228.5 420.6,221.9C421.9,215.3 422.3,218.5 422.8,192.7C423.3,166.9 423.3,88.2 423.4,67.3Z"/></clipPath>
<g clip-path="url(#cb2)"></g>
<path d="M385.2,67.3C385.4,83.8 386.0,141.8 386.6,166.2C387.2,190.6 387.6,203.4 388.7,214.0C389.8,224.6 391.7,226.2 393.5,229.9C395.3,233.6 397.9,234.7 399.7,236.0C401.5,237.3 403.7,237.2 404.5,237.5C405.3,237.3 407.8,237.4 409.5,236.5C411.2,235.6 413.1,234.4 415.0,232.0C416.9,229.6 419.3,228.5 420.6,221.9C421.9,215.3 422.3,218.5 422.8,192.7C423.3,166.9 423.3,88.2 423.4,67.3Z" fill="none" stroke="#1a0a00" stroke-width="0.9"/>
<path d="M389.5,67.3 L389.5,219.5 A15,15 0 0 0 419.5,219.5 L419.5,67.3 Z" fill="url(#gNoz)"/>
<circle cx="399.5" cy="224.5" r="2.6" fill="#fff"/><circle cx="399.5" cy="224.5" r="5" fill="#fff" opacity="0.35"/>
<path d="M14.0,411.0C26.7,411.0 70.7,411.2 90.0,411.0C109.3,410.8 120.0,410.5 130.0,410.0C140.0,409.5 142.5,409.8 150.0,408.0C157.5,406.2 166.7,402.6 175.0,399.0C183.3,395.4 191.4,390.4 200.0,386.5C208.6,382.6 217.7,378.9 226.5,375.8C235.3,372.7 244.2,370.0 253.1,367.9C261.9,365.8 270.8,364.6 279.6,363.4C288.5,362.2 297.4,361.4 306.2,360.7C315.0,360.0 323.8,359.7 332.7,359.4C341.6,359.1 348.2,359.2 359.3,359.1C370.4,359.1 385.6,358.8 399.0,359.1C412.4,359.4 427.6,360.1 440.0,360.7C452.4,361.3 461.0,361.2 473.1,362.6C485.2,364.0 499.6,366.3 512.9,369.2C526.2,372.1 541.6,376.5 552.7,379.8C563.8,383.1 570.4,385.8 579.3,389.1C588.1,392.4 596.9,396.4 605.8,399.7C614.6,403.0 624.2,406.9 632.4,409.0C640.6,411.1 643.7,411.8 655.0,412.5C666.3,413.2 679.2,413.0 700.0,413.0C720.8,413.0 766.2,412.6 779.5,412.5L779.5,430C766.2,429.5 723.2,427.9 700.0,427.0C676.8,426.1 663.3,425.0 640.0,424.5C616.7,424.0 600.0,424.4 560.0,424.0C520.0,423.6 450.0,422.4 400.0,422.0C350.0,421.6 293.3,421.4 260.0,421.5C226.7,421.6 226.7,421.7 200.0,422.5C173.3,423.3 131.0,425.4 100.0,426.5C69.0,427.6 28.3,428.6 14.0,429.0Z" fill="url(#gSheet2)" stroke="#55640c" stroke-width="0.6"/>
<rect x="14" y="490" width="765.5" height="40.5" fill="#ae4a50"/>
<rect x="14" y="530" width="765.5" height="7.5" fill="#c9a253"/>
<rect x="14" y="536.5" width="765.5" height="1.8" fill="#e8c87a" opacity="0.8"/>
<path d="M255.0,509.0C252.5,506.5 243.7,499.2 239.8,494.0C236.0,488.8 233.5,482.4 231.9,478.0C230.3,473.6 229.6,471.8 230.5,467.4C231.4,463.0 233.9,456.8 237.2,451.5C240.5,446.2 246.0,440.2 250.4,435.6C254.8,431.0 257.9,427.4 263.7,423.6C269.4,419.8 276.9,416.3 284.9,413.0C292.9,409.7 301.8,406.2 311.5,403.7C321.2,401.2 332.7,399.3 343.3,397.9C353.9,396.5 364.6,395.7 375.2,395.2C385.8,394.7 399.6,394.9 407.1,395.0C414.6,395.1 413.4,395.4 420.0,396.0C426.6,396.6 437.6,397.4 446.5,398.9C455.4,400.4 464.2,402.4 473.1,405.0C482.0,407.6 490.8,410.8 499.6,414.3C508.5,417.9 518.7,422.1 526.2,426.3C533.7,430.5 539.5,434.9 544.8,439.5C550.1,444.1 554.7,449.0 558.0,454.1C561.3,459.2 563.8,465.2 564.7,470.1C565.6,475.0 565.0,478.9 563.4,483.3C561.8,487.7 559.1,492.2 555.4,496.6C551.7,501.0 543.4,507.4 541.0,509.5L541.0,511.4 L255.0,511.4 Z" fill="url(#d1)" stroke="#0c2a10" stroke-width="0.7"/>
<path d="M254.0,509.0C253.6,506.1 251.5,496.9 251.8,491.3C252.1,485.7 253.3,480.7 255.7,475.4C258.1,470.1 261.5,464.4 266.4,459.5C271.3,454.6 277.4,450.1 284.9,446.2C292.4,442.3 301.8,438.8 311.5,436.1C321.2,433.5 332.7,431.7 343.3,430.3C353.9,428.9 364.6,428.1 375.2,427.6C385.8,427.2 399.6,427.4 407.1,427.6C414.6,427.8 413.4,428.2 420.0,428.9C426.6,429.6 437.6,430.1 446.5,431.6C455.4,433.2 464.2,435.3 473.1,438.2C482.0,441.1 491.6,444.8 499.6,448.8C507.6,452.8 515.1,457.7 520.9,462.1C526.7,466.5 530.7,470.5 534.2,475.4C537.7,480.3 540.8,485.7 542.1,491.3C543.4,496.9 542.2,506.1 542.2,509.0L542.2,511.4 L254.0,511.4 Z" fill="url(#d2)" stroke="#0c2a10" stroke-width="0.7"/>
<path d="M254.6,509.2C255.4,506.2 256.4,496.9 259.7,491.3C263.0,485.7 267.9,480.0 274.3,475.4C280.7,470.8 289.4,466.5 298.2,463.4C307.0,460.3 317.2,458.4 327.4,456.8C337.6,455.2 348.7,454.6 359.3,454.1C369.9,453.6 381.0,453.4 391.1,453.6C401.2,453.8 410.8,454.8 420.0,455.5C429.2,456.2 437.6,456.6 446.5,458.1C455.4,459.7 464.2,461.9 473.1,464.8C482.0,467.7 491.6,471.4 499.6,475.4C507.6,479.4 515.1,484.7 520.9,488.7C526.7,492.7 530.9,495.9 534.2,499.3C537.6,502.7 539.9,507.6 541.0,509.2L541.0,511.4 L254.6,511.4 Z" fill="url(#d3)" stroke="#0c2a10" stroke-width="0.7"/>
<path d="M255.7,509.5C258.4,506.9 265.0,498.1 271.7,494.0C278.4,489.9 286.3,487.1 295.6,484.7C304.9,482.3 316.8,480.5 327.4,479.4C338.0,478.3 348.7,478.2 359.3,478.0C369.9,477.8 381.0,477.8 391.1,478.0C401.2,478.2 410.8,478.7 420.0,479.4C429.2,480.1 437.6,480.7 446.5,482.0C455.4,483.3 464.2,485.1 473.1,487.3C482.0,489.5 491.6,492.8 499.6,495.3C507.6,497.8 514.3,500.1 520.9,502.5C527.5,504.9 536.0,508.4 539.0,509.6L539.0,511.4 L255.7,511.4 Z" fill="url(#d4)" stroke="#0c2a10" stroke-width="0.7"/>
<path d="M257.0,510.0C262.1,508.9 275.9,504.8 287.6,503.3C299.3,501.8 310.1,501.3 327.4,500.9C344.6,500.4 375.7,500.4 391.1,500.6C406.5,500.8 410.8,501.6 420.0,502.0C429.2,502.4 437.6,502.3 446.5,502.7C455.4,503.1 464.2,503.9 473.1,504.6C482.0,505.3 490.8,506.0 499.6,506.7C508.5,507.4 519.8,508.0 526.2,508.6C532.6,509.2 536.0,510.0 538.0,510.3L538.0,511.4 L257.0,511.4 Z" fill="url(#d5)" stroke="#0c2a10" stroke-width="0.7"/>
<path d="M254,511.4 L542,511.4 L548,505 L548,530.5 L248,530.5 L248,505 Z" fill="#ae4a50"/>
<path d="M255.0,509.0C252.5,506.5 243.7,499.2 239.8,494.0C236.0,488.8 233.2,480.7 231.9,478.0" fill="none" stroke="#0c2a10" stroke-width="0.7"/>
<path d="M563.4,483.3C562.1,485.5 559.1,492.2 555.4,496.6C551.7,501.0 543.4,507.4 541.0,509.5" fill="none" stroke="#0c2a10" stroke-width="0.7"/>
<path d="M209.0,538.4C206.1,541.8 198.0,549.6 191.8,558.8C185.6,567.9 177.3,579.9 171.6,593.3C165.8,606.7 160.8,623.0 157.3,639.3C153.8,655.6 151.9,672.9 150.4,691.1C148.9,709.3 148.4,730.2 148.6,748.6C148.8,767.0 151.0,792.7 151.5,801.5C159.6,800.7 182.8,797.9 200.0,796.5C217.2,795.1 233.3,794.1 255.0,793.2C276.7,792.3 306.0,791.5 330.0,791.0C354.0,790.5 375.7,790.2 399.0,790.2C422.3,790.2 446.0,790.5 470.0,791.0C494.0,791.5 521.1,792.2 542.8,793.2C564.5,794.2 583.5,795.6 600.0,797.0C616.5,798.4 634.6,800.8 641.5,801.5C641.9,794.6 643.8,776.6 643.8,760.1C643.8,743.6 643.6,721.8 641.6,702.6C639.6,683.4 636.0,662.4 632.0,645.1C628.0,627.8 622.9,612.4 617.6,599.0C612.3,585.6 607.0,574.6 600.3,564.5C593.6,554.4 581.1,542.8 577.3,538.4Z" fill="url(#b0)" stroke="#000030" stroke-width="0.8"/>
<path d="M243.6,538.4C244.1,542.8 244.5,555.4 246.4,564.5C248.3,573.6 249.7,582.8 255.0,593.3C260.3,603.8 268.5,617.2 278.1,627.8C287.7,638.3 300.1,648.9 312.6,656.6C325.1,664.3 339.5,669.6 352.9,673.9C366.3,678.2 379.8,682.0 393.2,682.5C406.6,683.0 420.0,680.5 433.4,676.7C446.8,672.9 461.2,666.7 473.7,659.5C486.2,652.3 497.6,643.7 508.2,633.6C518.8,623.5 530.3,610.5 537.0,599.0C543.7,587.5 546.1,574.6 548.5,564.5C550.9,554.4 550.9,542.8 551.4,538.4Z" fill="url(#bA)" stroke="#000020" stroke-width="0.7"/>
<clipPath id="cpA"><path d="M243.6,538.4C244.1,542.8 244.5,555.4 246.4,564.5C248.3,573.6 249.7,582.8 255.0,593.3C260.3,603.8 268.5,617.2 278.1,627.8C287.7,638.3 300.1,648.9 312.6,656.6C325.1,664.3 339.5,669.6 352.9,673.9C366.3,678.2 379.8,682.0 393.2,682.5C406.6,683.0 420.0,680.5 433.4,676.7C446.8,672.9 461.2,666.7 473.7,659.5C486.2,652.3 497.6,643.7 508.2,633.6C518.8,623.5 530.3,610.5 537.0,599.0C543.7,587.5 546.1,574.6 548.5,564.5C550.9,554.4 550.9,542.8 551.4,538.4Z"/></clipPath>
<g clip-path="url(#cpA)"><ellipse cx="420" cy="662" rx="55" ry="22" fill="url(#gGlowB)"/></g>
<path d="M263.7,538.4C266.1,542.3 270.9,553.9 278.1,561.6C285.3,569.3 296.3,578.0 306.9,584.7C317.4,591.4 328.9,597.6 341.4,601.9C353.9,606.2 369.2,609.1 381.7,610.6C394.2,612.1 403.7,612.1 416.2,610.6C428.7,609.1 444.0,606.2 456.5,601.9C469.0,597.6 480.4,591.4 491.0,584.7C501.6,578.0 512.6,569.3 519.8,561.6C527.0,553.9 531.8,542.3 534.2,538.4Z" fill="#0818c8" stroke="#000020" stroke-width="0.7"/>
<clipPath id="cpB"><path d="M263.7,538.4C266.1,542.3 270.9,553.9 278.1,561.6C285.3,569.3 296.3,578.0 306.9,584.7C317.4,591.4 328.9,597.6 341.4,601.9C353.9,606.2 369.2,609.1 381.7,610.6C394.2,612.1 403.7,612.1 416.2,610.6C428.7,609.1 444.0,606.2 456.5,601.9C469.0,597.6 480.4,591.4 491.0,584.7C501.6,578.0 512.6,569.3 519.8,561.6C527.0,553.9 531.8,542.3 534.2,538.4Z"/></clipPath>
<g clip-path="url(#cpB)"><ellipse cx="425" cy="592" rx="60" ry="18" fill="url(#gGlowB)"/><ellipse cx="300" cy="585" rx="35" ry="10" transform="rotate(30 300 585)" fill="url(#gGlowB)" opacity="0.5"/></g>
<path d="M281.0,538.4C286.3,541.3 300.6,551.1 312.6,555.9C324.6,560.7 339.5,564.5 352.9,567.4C366.3,570.3 379.8,572.7 393.2,573.2C406.6,573.7 420.0,572.2 433.4,570.3C446.8,568.4 461.2,565.4 473.7,561.6C486.2,557.8 500.5,551.2 508.2,547.3C515.9,543.4 517.9,539.9 519.8,538.4Z" fill="#0a2ce0" stroke="#000020" stroke-width="0.7"/>
<clipPath id="cpC"><path d="M281.0,538.4C286.3,541.3 300.6,551.1 312.6,555.9C324.6,560.7 339.5,564.5 352.9,567.4C366.3,570.3 379.8,572.7 393.2,573.2C406.6,573.7 420.0,572.2 433.4,570.3C446.8,568.4 461.2,565.4 473.7,561.6C486.2,557.8 500.5,551.2 508.2,547.3C515.9,543.4 517.9,539.9 519.8,538.4Z"/></clipPath>
<g clip-path="url(#cpC)"><ellipse cx="415" cy="556" rx="60" ry="14" fill="url(#gGlowB)"/></g>
<path d="M324.1,538.4C329.9,539.4 346.2,542.9 358.7,544.4C371.2,545.9 385.5,547.3 398.9,547.3C412.3,547.3 426.7,545.9 439.2,544.4C451.7,542.9 467.9,539.4 473.7,538.4Z" fill="#1060f0" stroke="#000020" stroke-width="0.7"/>
<line x1="391.6" y1="52.4" x2="391.6" y2="806" stroke="#ff0000" stroke-width="1.9" stroke-dasharray="45.5,9,19,9"/>
<line x1="403.3" y1="52.4" x2="403.3" y2="232" stroke="#00ffff" stroke-width="2.2" stroke-dasharray="45.5,9,19,9"/>
<line x1="404" y1="234" x2="404" y2="803" stroke="#d8407c" stroke-width="2.2"/>
<line x1="402.6" y1="234" x2="402.6" y2="803" stroke="#f0a0c0" stroke-width="0.8" opacity="0.8"/>
<circle cx="403.5" cy="803.5" r="3" fill="#e01020"/>
<line x1="352.4" y1="61" x2="380" y2="61" stroke="#000" stroke-width="1.4"/><path d="M389.5,61 L373,53.6 L373,68.4Z" fill="#000"/>
<line x1="415" y1="61" x2="477" y2="61" stroke="#000" stroke-width="1.4"/><path d="M403.6,61 L418.5,53.6 L418.5,68.4Z" fill="#000"/>
<line x1="422" y1="128.4" x2="478" y2="128.4" stroke="#00ffff" stroke-width="1.4"/><path d="M410.2,128.4 L426,120.4 L426,136.4Z" fill="#00ffff"/>
<line x1="312" y1="182.5" x2="368" y2="182.5" stroke="#ff0000" stroke-width="1.4"/><path d="M380.5,182.5 L364.8,175 L364.8,190Z" fill="#ff0000"/>
<line x1="420" y1="336.5" x2="476" y2="336.5" stroke="#cc28b4" stroke-width="1.4"/><path d="M407.8,336.5 L423.5,329 L423.5,344Z" fill="#cc28b4"/>
<line x1="355" y1="805" x2="380" y2="805" stroke="#000" stroke-width="1.4"/><path d="M391,805 L376,798.5 L376,811.5Z" fill="#000"/>
<line x1="415" y1="805" x2="477" y2="805" stroke="#000" stroke-width="1.4"/><path d="M404.5,805 L419.5,798.5 L419.5,811.5Z" fill="#000"/>
<line x1="670.5" y1="548" x2="670.5" y2="788" stroke="#000" stroke-width="1.4"/><path d="M670.5,535 L663.5,551 L677.5,551Z" fill="#000"/><path d="M670.5,800.5 L663.5,784.5 L677.5,784.5Z" fill="#000"/>
<line x1="643" y1="800.5" x2="685" y2="800.5" stroke="#3a80c8" stroke-width="1.4" stroke-dasharray="9,5"/>
<rect x="813.5" y="113" width="38.5" height="637" fill="url(#jet)"/>
<line x1="814" y1="113" x2="814" y2="750" stroke="#111" stroke-width="1.6"/><line x1="851.5" y1="113" x2="851.5" y2="750" stroke="#111" stroke-width="1.6"/>
<line x1="845" y1="176.7" x2="851" y2="176.7" stroke="#111" stroke-width="1.2"/>
<line x1="814" y1="176.7" x2="818.5" y2="176.7" stroke="#111" stroke-width="1.2"/>
<line x1="845" y1="240.4" x2="851" y2="240.4" stroke="#111" stroke-width="1.2"/>
<line x1="814" y1="240.4" x2="818.5" y2="240.4" stroke="#111" stroke-width="1.2"/>
<line x1="845" y1="304.1" x2="851" y2="304.1" stroke="#111" stroke-width="1.2"/>
<line x1="814" y1="304.1" x2="818.5" y2="304.1" stroke="#111" stroke-width="1.2"/>
<line x1="845" y1="367.8" x2="851" y2="367.8" stroke="#111" stroke-width="1.2"/>
<line x1="814" y1="367.8" x2="818.5" y2="367.8" stroke="#111" stroke-width="1.2"/>
<line x1="845" y1="431.5" x2="851" y2="431.5" stroke="#111" stroke-width="1.2"/>
<line x1="814" y1="431.5" x2="818.5" y2="431.5" stroke="#111" stroke-width="1.2"/>
<line x1="845" y1="495.2" x2="851" y2="495.2" stroke="#111" stroke-width="1.2"/>
<line x1="814" y1="495.2" x2="818.5" y2="495.2" stroke="#111" stroke-width="1.2"/>
<line x1="845" y1="558.9" x2="851" y2="558.9" stroke="#111" stroke-width="1.2"/>
<line x1="814" y1="558.9" x2="818.5" y2="558.9" stroke="#111" stroke-width="1.2"/>
<line x1="845" y1="622.6" x2="851" y2="622.6" stroke="#111" stroke-width="1.2"/>
<line x1="814" y1="622.6" x2="818.5" y2="622.6" stroke="#111" stroke-width="1.2"/>
<line x1="845" y1="686.3" x2="851" y2="686.3" stroke="#111" stroke-width="1.2"/>
<line x1="814" y1="686.3" x2="818.5" y2="686.3" stroke="#111" stroke-width="1.2"/>
<text x="9.5" y="57.5" letter-spacing="4.5" font-family="Liberation Sans, Arial, sans-serif" font-size="52" fill="#000">(a)</text>
<text x="816" y="62" text-anchor="middle" font-family="Liberation Sans, Arial, sans-serif" font-weight="700" font-size="36" fill="#000">High</text>
<text x="817" y="108" text-anchor="middle" font-family="Liberation Sans, Arial, sans-serif" font-weight="700" font-size="36" fill="#000">potential</text>
<text x="512" y="66" font-family="Liberation Sans, Arial, sans-serif" font-weight="700" font-size="36" fill="#000">d=r<tspan font-size="24">0</tspan>/2</text>
<text x="472" y="137.5" font-family="Liberation Sans, Arial, sans-serif" font-weight="700" font-size="36" fill="#000">Axis of nozzle</text>
<text x="177" y="150" text-anchor="middle" font-family="Liberation Sans, Arial, sans-serif" font-weight="700" font-size="36" fill="#000">Axis of</text>
<text x="177" y="195" text-anchor="middle" font-family="Liberation Sans, Arial, sans-serif" font-weight="700" font-size="36" fill="#000">electrostatic</text>
<text x="176" y="238" text-anchor="middle" font-family="Liberation Sans, Arial, sans-serif" font-weight="700" font-size="36" fill="#000">lens</text>
<text x="428" y="215" font-family="Liberation Sans, Arial, sans-serif" font-weight="700" font-size="36" fill="#000">Nozzle</text>
<text x="474" y="327.5" font-family="Liberation Sans, Arial, sans-serif" font-weight="700" font-size="36" fill="#000">Droplet</text>
<text x="440" y="370" font-family="Liberation Sans, Arial, sans-serif" font-weight="700" font-size="36" fill="#000">trajectories</text>
<text x="562" y="447.5" font-family="Liberation Sans, Arial, sans-serif" font-weight="700" font-size="36" fill="#000">Electrostatic</text>
<text x="634" y="489" font-family="Liberation Sans, Arial, sans-serif" font-weight="700" font-size="36" fill="#000">lens</text>
<text x="682" y="672.5" font-family="Liberation Sans, Arial, sans-serif" font-weight="700" font-size="36" fill="#000">h<tspan font-size="24">s</tspan>=2R</text>
<text x="484" y="815" font-family="Liberation Sans, Arial, sans-serif" font-weight="700" font-size="36" fill="#000">r<tspan font-size="26">s</tspan></text>
<text x="810" y="780" text-anchor="middle" font-family="Liberation Sans, Arial, sans-serif" font-weight="700" font-size="36" fill="#000">Low</text>
<text x="810" y="825" text-anchor="middle" font-family="Liberation Sans, Arial, sans-serif" font-weight="700" font-size="36" fill="#000">potential</text>
<line x1="161.7" y1="1327.7" x2="478.7" y2="1237.9" stroke="#c5c5c5" stroke-width="1.5" fill="none"/>
<line x1="478.7" y1="1238.0" x2="789.7" y2="1331.3" stroke="#c5c5c5" stroke-width="1.5" fill="none"/>
<line x1="157.0" y1="1243.4" x2="478.5" y2="1166.6" stroke="#c5c5c5" stroke-width="1.5" fill="none"/>
<line x1="478.5" y1="1166.9" x2="794.1" y2="1246.7" stroke="#c5c5c5" stroke-width="1.5" fill="none"/>
<line x1="152.2" y1="1156.6" x2="478.3" y2="1093.6" stroke="#c5c5c5" stroke-width="1.5" fill="none"/>
<line x1="478.3" y1="1094.0" x2="798.7" y2="1159.5" stroke="#c5c5c5" stroke-width="1.5" fill="none"/>
<line x1="147.2" y1="1067.4" x2="478.0" y2="1018.9" stroke="#c5c5c5" stroke-width="1.5" fill="none"/>
<line x1="478.0" y1="1019.2" x2="803.4" y2="1069.5" stroke="#c5c5c5" stroke-width="1.5" fill="none"/>
<line x1="142.1" y1="975.5" x2="477.8" y2="942.4" stroke="#c5c5c5" stroke-width="1.5" fill="none"/>
<line x1="477.8" y1="942.5" x2="808.3" y2="976.7" stroke="#c5c5c5" stroke-width="1.5" fill="none"/>
<line x1="205.0" y1="1356.5" x2="184.0" y2="925.3" stroke="#c5c5c5" stroke-width="1.5" fill="none"/>
<line x1="205.1" y1="1356.4" x2="512.0" y2="1499.5" stroke="#c5c5c5" stroke-width="1.5" fill="none"/>
<line x1="281.8" y1="1333.0" x2="267.1" y2="919.1" stroke="#c5c5c5" stroke-width="1.5" fill="none"/>
<line x1="282.2" y1="1332.9" x2="591.7" y2="1462.8" stroke="#c5c5c5" stroke-width="1.5" fill="none"/>
<line x1="352.7" y1="1311.4" x2="343.2" y2="913.4" stroke="#c5c5c5" stroke-width="1.5" fill="none"/>
<line x1="353.0" y1="1311.3" x2="663.4" y2="1429.8" stroke="#c5c5c5" stroke-width="1.5" fill="none"/>
<line x1="418.1" y1="1291.4" x2="413.1" y2="908.2" stroke="#c5c5c5" stroke-width="1.5" fill="none"/>
<line x1="418.3" y1="1291.4" x2="728.4" y2="1399.9" stroke="#c5c5c5" stroke-width="1.5" fill="none"/>
<line x1="522.7" y1="1287.1" x2="524.6" y2="907.0" stroke="#c5c5c5" stroke-width="1.5" fill="none"/>
<line x1="205.7" y1="1389.6" x2="522.6" y2="1287.1" stroke="#c5c5c5" stroke-width="1.5" fill="none"/>
<line x1="569.3" y1="1302.2" x2="574.4" y2="910.9" stroke="#c5c5c5" stroke-width="1.5" fill="none"/>
<line x1="250.5" y1="1411.7" x2="569.1" y2="1302.1" stroke="#c5c5c5" stroke-width="1.5" fill="none"/>
<line x1="618.8" y1="1318.2" x2="627.6" y2="915.0" stroke="#c5c5c5" stroke-width="1.5" fill="none"/>
<line x1="298.7" y1="1435.5" x2="618.6" y2="1318.1" stroke="#c5c5c5" stroke-width="1.5" fill="none"/>
<line x1="671.4" y1="1335.2" x2="684.5" y2="919.4" stroke="#c5c5c5" stroke-width="1.5" fill="none"/>
<line x1="350.9" y1="1461.2" x2="671.2" y2="1335.1" stroke="#c5c5c5" stroke-width="1.5" fill="none"/>
<line x1="727.5" y1="1353.3" x2="745.4" y2="924.1" stroke="#c5c5c5" stroke-width="1.5" fill="none"/>
<line x1="407.4" y1="1489.1" x2="727.4" y2="1353.3" stroke="#c5c5c5" stroke-width="1.5" fill="none"/>
<line x1="164.0" y1="1369.0" x2="478.8" y2="1272.9" stroke="#8e8e8e" stroke-width="1.9" stroke-dasharray="1.3,0.9" fill="none"/>
<line x1="478.8" y1="1272.9" x2="787.5" y2="1372.7" stroke="#8e8e8e" stroke-width="1.9" stroke-dasharray="1.3,0.9" fill="none"/>
<line x1="477.7" y1="903.4" x2="478.8" y2="1272.9" stroke="#8e8e8e" stroke-width="1.9" stroke-dasharray="1.3,0.9" fill="none"/>
<line x1="810.8" y1="929.2" x2="787.5" y2="1372.7" stroke="#8e8e8e" stroke-width="1.9" stroke-dasharray="1.3,0.9" fill="none"/>
<path d="M161.0,927.0 L477.7,903.4 L810.8,929.2" stroke="#231815" stroke-width="2" fill="none" stroke-linejoin="round"/>
<path d="M288.7,1292.7C290.4,1289.6 294.9,1280.3 298.6,1274.1C302.3,1267.9 306.4,1262.3 311.0,1255.6C315.6,1248.9 321.4,1240.4 326.5,1233.9C331.6,1227.4 336.2,1222.7 341.9,1216.8C347.6,1210.9 354.3,1204.0 360.5,1198.3C366.7,1192.6 372.9,1187.4 379.1,1182.8C385.3,1178.2 391.5,1174.3 397.7,1170.4C403.9,1166.5 410.1,1162.7 416.3,1159.6C422.5,1156.5 428.6,1154.1 434.8,1151.8C441.0,1149.5 447.2,1147.4 453.4,1145.6C459.6,1143.8 465.8,1142.3 472.0,1141.0C478.2,1139.7 484.4,1138.9 490.6,1137.9C496.8,1136.9 503.0,1135.7 509.2,1134.8C515.4,1133.9 522.5,1133.6 527.8,1132.5C533.1,1131.4 538.6,1128.8 540.8,1128.0L540.8,1316.5 L480,1337.1 L376.8,1372.4 L291.6,1399.5 L290.5,1401 L290.5,1292Z" fill="#8a8480" opacity="0.28"/><path d="M649.2,1246.3C644.0,1246.8 629.6,1247.1 618.2,1249.4C606.8,1251.7 592.4,1256.7 581.0,1260.3C569.6,1263.9 559.9,1266.7 550.1,1271.1C540.3,1275.5 530.5,1281.2 522.2,1286.6C513.9,1292.0 507.2,1297.7 500.5,1303.6C493.8,1309.5 487.6,1315.5 481.9,1322.2C476.2,1328.9 471.1,1336.2 466.5,1343.9C461.9,1351.7 457.5,1360.5 454.1,1368.7C450.7,1377.0 448.0,1385.2 446.3,1393.4C444.6,1401.7 443.0,1411.8 443.8,1418.2C444.6,1424.6 449.8,1429.7 451.0,1432.0C449.0,1430.5 444.4,1426.0 439.1,1423.2C433.8,1420.4 426.8,1419.3 419.2,1415.2C411.6,1411.1 397.6,1401.3 393.3,1398.5L392.7,1444.5 L466.5,1418.2 L547,1385.7 L605.8,1359.4 L649.2,1342.3Z" fill="#8a827c" opacity="0.28"/>
<path d="M255.1,1414.5L291.6,1399.5L376.8,1372.4L480.0,1337.1L540.8,1316.5L640.0,1283.0L700.0,1322.0L649.2,1342.3L605.8,1359.4L547.0,1385.7L466.5,1418.2L392.7,1444.5L350.3,1460.8Z" fill="url(#gRed)"/>
<clipPath id="cpRed"><path d="M255.1,1414.5L291.6,1399.5L376.8,1372.4L480.0,1337.1L540.8,1316.5L640.0,1283.0L700.0,1322.0L649.2,1342.3L605.8,1359.4L547.0,1385.7L466.5,1418.2L392.7,1444.5L350.3,1460.8Z"/></clipPath>
<g clip-path="url(#cpRed)"><line x1="298.7" y1="1435.5" x2="618.6" y2="1318.1" stroke="url(#gWl)" stroke-width="1.5"/><line x1="205.1" y1="1356.4" x2="512.0" y2="1499.5" stroke="url(#gWl)" stroke-width="1.5"/><line x1="282.2" y1="1332.9" x2="591.7" y2="1462.8" stroke="url(#gWl)" stroke-width="1.5"/><line x1="250.5" y1="1411.7" x2="569.1" y2="1302.1" stroke="url(#gWl)" stroke-width="1.5"/></g>
<g clip-path="url(#cpRed)"><path d="M649.2,1246.3C644.0,1246.8 629.6,1247.1 618.2,1249.4C606.8,1251.7 592.4,1256.7 581.0,1260.3C569.6,1263.9 559.9,1266.7 550.1,1271.1C540.3,1275.5 530.5,1281.2 522.2,1286.6C513.9,1292.0 507.2,1297.7 500.5,1303.6C493.8,1309.5 487.6,1315.5 481.9,1322.2C476.2,1328.9 471.1,1336.2 466.5,1343.9C461.9,1351.7 457.5,1360.5 454.1,1368.7C450.7,1377.0 448.0,1385.2 446.3,1393.4C444.6,1401.7 443.0,1411.8 443.8,1418.2C444.6,1424.6 449.8,1429.7 451.0,1432.0C449.0,1430.5 444.4,1426.0 439.1,1423.2C433.8,1420.4 426.8,1419.3 419.2,1415.2C411.6,1411.1 397.6,1401.3 393.3,1398.5L392.7,1444.5 L466.5,1418.2 L547,1385.7 L605.8,1359.4 L649.2,1342.3Z" fill="url(#gDull)"/></g>
<clipPath id="cpS"><path d="M233.8,1090.4C235.5,1087.9 238.8,1081.5 243.8,1075.3C248.8,1069.1 256.4,1061.0 263.7,1053.4C271.0,1045.8 279.0,1037.5 287.6,1029.5C296.2,1021.5 304.9,1012.9 315.5,1005.6C326.1,998.3 339.4,991.3 351.3,985.7C363.2,980.1 375.2,975.8 387.2,971.8C399.1,967.8 411.1,964.5 423.0,961.8C434.9,959.1 447.3,957.6 458.9,955.8C470.5,954.0 487.1,951.9 492.7,951.1L492.7,951.1C493.0,957.9 493.4,977.6 494.7,991.7C496.0,1005.8 497.6,1021.6 500.7,1035.5C503.8,1049.4 508.9,1063.8 513.0,1075.0C517.0,1086.2 520.8,1094.2 525.0,1103.0C529.2,1111.8 532.9,1118.6 538.0,1128.0C543.1,1137.4 549.3,1150.3 555.5,1159.6C561.7,1168.8 568.1,1175.5 575.4,1183.5C582.7,1191.5 590.7,1200.1 599.3,1207.4C607.9,1214.7 616.6,1221.1 627.2,1227.4C637.8,1233.7 651.0,1239.9 663.0,1245.3C675.0,1250.7 693.4,1257.4 699.5,1259.8C694.2,1262.1 678.2,1269.0 667.8,1273.5C657.3,1278.0 647.1,1282.3 636.8,1286.6C626.5,1290.8 614.1,1295.4 605.8,1299.0C597.5,1302.6 596.0,1304.2 587.2,1308.3C578.4,1312.4 563.0,1317.8 553.2,1323.7C543.4,1329.6 535.6,1338.0 528.4,1343.9C521.2,1349.9 516.0,1353.2 509.8,1359.4C503.6,1365.6 497.4,1373.8 491.2,1381.0C485.0,1388.2 478.3,1395.5 472.6,1402.7C466.9,1409.9 460.6,1419.1 457.0,1424.0C453.4,1428.9 452.0,1430.7 451.0,1432.0C449.0,1430.5 444.4,1426.0 439.1,1423.2C433.8,1420.4 426.8,1419.3 419.2,1415.2C411.6,1411.1 400.6,1404.0 393.3,1398.5C386.0,1393.0 380.6,1386.5 375.4,1382.0C370.2,1377.5 367.6,1375.9 362.2,1371.2C356.8,1366.5 348.8,1359.8 342.7,1354.1C336.6,1348.4 331.4,1343.6 325.7,1337.1C320.0,1330.6 314.4,1323.7 308.7,1315.2C303.0,1306.7 295.7,1293.9 291.6,1286.0C287.5,1278.1 286.3,1273.8 284.0,1268.0C281.7,1262.2 280.8,1260.0 277.7,1251.3C274.6,1242.5 269.3,1227.5 265.7,1215.5C262.1,1203.5 259.1,1192.2 255.8,1179.6C252.5,1167.0 248.8,1152.2 245.8,1139.8C242.8,1127.4 239.8,1113.2 237.8,1105.0C235.8,1096.8 234.5,1092.8 233.8,1090.4Z"/></clipPath>
<g clip-path="url(#cpS)" opacity="0.68"><rect x="200" y="930" width="520" height="520" fill="#ec8b6a"/><path d="M200.0,1018.0C219.2,1016.3 265.8,1012.2 315.0,1008.0C364.2,1003.8 427.5,998.3 495.0,992.5C562.5,986.7 682.5,976.2 720.0,973.0 L720,1460 L200,1460Z" fill="#f3b27f"/><path d="M200.0,1069.0C208.6,1068.1 201.7,1069.0 251.8,1063.4C301.9,1057.8 422.7,1044.2 500.7,1035.5C578.7,1026.8 683.5,1015.1 720.0,1011.0 L720,1460 L200,1460Z" fill="#f9d6a2"/><path d="M200.0,1117.7C206.3,1116.9 185.4,1119.5 237.8,1113.1C290.2,1106.7 434.2,1089.1 514.6,1079.3C595.0,1069.5 685.8,1058.2 720.0,1054.0 L720,1460 L200,1460Z" fill="#fcf08b"/><path d="M200.0,1170.0C213.3,1168.2 243.9,1164.3 280.0,1159.5C316.1,1154.7 383.3,1145.6 416.3,1141.0C449.3,1136.4 458.1,1134.8 478.2,1131.7C498.3,1128.6 496.7,1129.0 537.0,1122.4C577.3,1115.8 689.5,1097.1 720.0,1092.0 L720,1460 L200,1460Z" fill="#7fc490"/><path d="M200.0,1217.0C213.3,1215.7 255.3,1211.7 280.0,1209.1C304.7,1206.5 325.4,1204.6 348.1,1201.4C370.8,1198.2 394.6,1193.5 416.3,1189.9C438.0,1186.3 460.6,1182.2 478.2,1179.7C495.8,1177.2 508.0,1177.1 521.6,1175.0C535.2,1172.9 540.3,1171.8 560.0,1167.3C579.7,1162.8 613.3,1154.5 640.0,1148.0C666.7,1141.5 706.7,1131.3 720.0,1128.0 L720,1460 L200,1460Z" fill="#73c8be"/><path d="M200.0,1266.0C213.3,1265.3 255.3,1263.2 280.0,1261.7C304.7,1260.2 325.4,1259.0 348.1,1257.1C370.8,1255.1 394.6,1252.8 416.3,1250.0C438.0,1247.2 454.2,1243.0 478.2,1240.1C502.1,1237.1 535.2,1234.5 560.0,1232.3C584.8,1230.0 600.5,1229.5 627.2,1226.6C653.9,1223.7 704.5,1216.9 720.0,1215.0 L720,1460 C685.8,1460.0 550.8,1470.0 515.0,1460.0C479.2,1450.0 508.4,1412.7 505.0,1400.0C501.6,1387.3 499.1,1389.6 494.9,1384.0C490.7,1378.4 484.3,1370.9 480.0,1366.3C475.7,1361.7 474.3,1360.2 469.3,1356.5C464.3,1352.8 457.1,1348.2 449.8,1344.4C442.5,1340.6 434.0,1336.5 425.5,1333.4C417.0,1330.4 408.0,1328.1 398.7,1326.1C389.4,1324.1 379.2,1322.4 369.5,1321.3C359.8,1320.2 349.9,1319.9 340.3,1319.6C330.7,1319.2 321.8,1318.6 311.7,1319.2C301.6,1319.8 291.9,1321.2 280.0,1323.0C268.1,1324.8 246.7,1328.8 240.0,1330.0 Z" fill="#7ccef3"/></g><g clip-path="url(#cpS)"><path d="M240.0,1330.0C246.7,1328.8 268.1,1324.8 280.0,1323.0C291.9,1321.2 301.6,1319.8 311.7,1319.2C321.8,1318.6 330.7,1319.2 340.3,1319.6C349.9,1319.9 359.8,1320.2 369.5,1321.3C379.2,1322.4 389.4,1324.1 398.7,1326.1C408.0,1328.1 417.0,1330.4 425.5,1333.4C434.0,1336.5 442.5,1340.6 449.8,1344.4C457.1,1348.2 464.3,1352.8 469.3,1356.5C474.3,1360.2 475.7,1361.7 480.0,1366.3C484.3,1370.9 490.7,1378.4 494.9,1384.0C499.1,1389.6 501.6,1387.3 505.0,1400.0C508.4,1412.7 513.3,1450.0 515.0,1460.0 L240,1460Z" fill="#8b8cc1" opacity="0.68"/></g>
<g clip-path="url(#cpS)"><path d="M255.1,1414.5L291.6,1399.5L376.8,1372.4L480.0,1337.1L540.8,1316.5L640.0,1283.0L700.0,1322.0L649.2,1342.3L605.8,1359.4L547.0,1385.7L466.5,1418.2L392.7,1444.5L350.3,1460.8Z" fill="url(#gRed)" opacity="0.3"/></g>
<clipPath id="cpLobe"><path d="M240.0,1330.0C246.7,1328.8 268.1,1324.8 280.0,1323.0C291.9,1321.2 301.6,1319.8 311.7,1319.2C321.8,1318.6 330.7,1319.2 340.3,1319.6C349.9,1319.9 359.8,1320.2 369.5,1321.3C379.2,1322.4 389.4,1324.1 398.7,1326.1C408.0,1328.1 417.0,1330.4 425.5,1333.4C434.0,1336.5 442.5,1340.6 449.8,1344.4C457.1,1348.2 464.3,1352.8 469.3,1356.5C474.3,1360.2 475.7,1361.7 480.0,1366.3C484.3,1370.9 490.7,1378.4 494.9,1384.0C499.1,1389.6 501.6,1387.3 505.0,1400.0C508.4,1412.7 513.3,1450.0 515.0,1460.0 L240,1460Z"/></clipPath>
<g clip-path="url(#cpS)"><g clip-path="url(#cpLobe)"><path d="M255.1,1414.5L291.6,1399.5L376.8,1372.4L480.0,1337.1L540.8,1316.5L640.0,1283.0L700.0,1322.0L649.2,1342.3L605.8,1359.4L547.0,1385.7L466.5,1418.2L392.7,1444.5L350.3,1460.8Z" fill="url(#gRed)" opacity="0.45"/></g></g>
<path d="M288.7,1292.7C290.4,1289.6 294.9,1280.3 298.6,1274.1C302.3,1267.9 306.4,1262.3 311.0,1255.6C315.6,1248.9 321.4,1240.4 326.5,1233.9C331.6,1227.4 336.2,1222.7 341.9,1216.8C347.6,1210.9 354.3,1204.0 360.5,1198.3C366.7,1192.6 372.9,1187.4 379.1,1182.8C385.3,1178.2 391.5,1174.3 397.7,1170.4C403.9,1166.5 410.1,1162.7 416.3,1159.6C422.5,1156.5 428.6,1154.1 434.8,1151.8C441.0,1149.5 447.2,1147.4 453.4,1145.6C459.6,1143.8 465.8,1142.3 472.0,1141.0C478.2,1139.7 484.4,1138.9 490.6,1137.9C496.8,1136.9 503.0,1135.7 509.2,1134.8C515.4,1133.9 522.5,1133.6 527.8,1132.5C533.1,1131.4 538.6,1128.8 540.8,1128.0L540.8,1316.5 L480,1337.1 L376.8,1372.4 L291.6,1399.5 L290.5,1401 L290.5,1292Z" fill="#10282c" opacity="0.07"/><path d="M649.2,1246.3C644.0,1246.8 629.6,1247.1 618.2,1249.4C606.8,1251.7 592.4,1256.7 581.0,1260.3C569.6,1263.9 559.9,1266.7 550.1,1271.1C540.3,1275.5 530.5,1281.2 522.2,1286.6C513.9,1292.0 507.2,1297.7 500.5,1303.6C493.8,1309.5 487.6,1315.5 481.9,1322.2C476.2,1328.9 471.1,1336.2 466.5,1343.9C461.9,1351.7 457.5,1360.5 454.1,1368.7C450.7,1377.0 448.0,1385.2 446.3,1393.4C444.6,1401.7 443.0,1411.8 443.8,1418.2C444.6,1424.6 449.8,1429.7 451.0,1432.0C449.0,1430.5 444.4,1426.0 439.1,1423.2C433.8,1420.4 426.8,1419.3 419.2,1415.2C411.6,1411.1 397.6,1401.3 393.3,1398.5L392.7,1444.5 L466.5,1418.2 L547,1385.7 L605.8,1359.4 L649.2,1342.3Z" fill="#10202c" opacity="0.07"/>
<circle cx="233.8" cy="1090.4" r="3.3" fill="#9c9c9c"/>
<circle cx="425.4" cy="957.8" r="3.3" fill="#9c9c9c"/>
<circle cx="492.7" cy="950.7" r="3.3" fill="#9c9c9c"/>
<circle cx="540.4" cy="1127.0" r="3.3" fill="#9c9c9c"/>
<circle cx="590.5" cy="1186.7" r="3.3" fill="#9c9c9c"/>
<circle cx="701.6" cy="1249.3" r="3.3" fill="#9c9c9c"/>
<circle cx="288.5" cy="1293.2" r="3.3" fill="#9c9c9c"/>
<circle cx="339.6" cy="1357.5" r="3.3" fill="#9c9c9c"/>
<circle cx="392.5" cy="1399.3" r="3.3" fill="#9c9c9c"/>
<circle cx="450.0" cy="1433.0" r="3.3" fill="#9c9c9c"/>
<circle cx="490.2" cy="1378.8" r="3.3" fill="#9c9c9c"/>
<circle cx="529.7" cy="1345.2" r="3.3" fill="#9c9c9c"/>
<circle cx="567.4" cy="1322.3" r="3.3" fill="#9c9c9c"/>
<circle cx="603.6" cy="1300.5" r="3.3" fill="#9c9c9c"/>
<circle cx="275.7" cy="1056.2" r="3.3" fill="#b89070"/>
<circle cx="352.5" cy="991.7" r="3.3" fill="#c98467"/>
<circle cx="390.4" cy="978.9" r="3.3" fill="#c98467"/>
<circle cx="459.6" cy="961.8" r="3.3" fill="#c98467"/>
<circle cx="508.2" cy="1142.6" r="3.3" fill="#559a78"/>
<circle cx="474.8" cy="1158.4" r="3.3" fill="#559a78"/>
<circle cx="440.1" cy="1166.0" r="3.3" fill="#559a78"/>
<circle cx="404.3" cy="1183.6" r="3.3" fill="#559a78"/>
<circle cx="366.8" cy="1201.9" r="3.3" fill="#4f9fa3"/>
<circle cx="328.2" cy="1237.8" r="3.3" fill="#4f9fa3"/>
<circle cx="558.2" cy="1195.5" r="3.3" fill="#4f9fa3"/>
<circle cx="525.3" cy="1213.0" r="3.3" fill="#4f9fa3"/>
<circle cx="491.2" cy="1222.6" r="3.3" fill="#4f9fa3"/>
<circle cx="455.4" cy="1250.0" r="3.3" fill="#4c9ab8"/>
<circle cx="418.1" cy="1279.0" r="3.3" fill="#4c9ab8"/>
<circle cx="378.9" cy="1299.8" r="3.3" fill="#4c9ab8"/>
<circle cx="545.3" cy="1273.3" r="3.3" fill="#4c9ab8"/>
<circle cx="509.5" cy="1303.0" r="3.3" fill="#4c9ab8"/>
<circle cx="472.2" cy="1333.4" r="3.3" fill="#4c9ab8"/>
<circle cx="643.9" cy="1241.3" r="3.3" fill="#4c9ab8"/>
<circle cx="612.0" cy="1252.0" r="3.3" fill="#4c9ab8"/>
<circle cx="579.4" cy="1262.2" r="3.3" fill="#4c9ab8"/>
<circle cx="670.0" cy="1267.8" r="3.3" fill="#4c9ab8"/>
<circle cx="637.5" cy="1279.9" r="3.3" fill="#4c9ab8"/>
<circle cx="432.4" cy="1346.7" r="3.3" fill="#4c9ab8"/>
<circle cx="314.7" cy="1005.6" r="3.3" fill="#8f98a4"/>
<circle cx="337.5" cy="1330" r="7" fill="#5b4c50"/>
<circle cx="425.2" cy="1373.4" r="7" fill="#0450b0"/>
<circle cx="551.6" cy="1322.5" r="7" fill="#00685c"/>
<circle cx="586.4" cy="1309" r="7" fill="#123c8c"/><path d="M580,1312 A7,7 0 0 0 592,1313 Z" fill="#4a2a6a" opacity="0.8"/>
<text transform="translate(304.7,1354.0) scale(1.00,1.1)" font-family="DejaVu Serif, Noto Serif CJK SC, serif" font-size="30" text-anchor="middle" stroke-width="0.7" fill="#3e3a39" stroke="#3e3a39">Ⅱ</text>
<text transform="translate(443.5,1388.6) scale(1.30,1.1)" font-family="DejaVu Serif, Noto Serif CJK SC, serif" font-size="30" text-anchor="middle" stroke-width="0.7" fill="#4f6a88" stroke="#4f6a88">Ⅰ</text>
<text transform="translate(533.3,1338.8) scale(0.87,1.1)" font-family="DejaVu Serif, Noto Serif CJK SC, serif" font-size="30" text-anchor="middle" stroke-width="0.7" fill="#4f6a78" stroke="#4f6a78">Ⅲ</text>
<text transform="translate(618.4,1336.5) scale(0.87,1.1)" font-family="DejaVu Serif, Noto Serif CJK SC, serif" font-size="30" text-anchor="middle" stroke-width="0.7" fill="#3e3a39" stroke="#3e3a39">Ⅳ</text>
<path d="M139.5,928.6 L161.0,927.0 L163.7,975.3 L142.2,977.5 Z" fill="#231815"/>
<path d="M142.2,977.5 L163.7,975.3 L166.1,1019.4 L144.7,1021.6 Z" fill="#e60012"/>
<path d="M144.7,1021.6 L166.1,1019.4 L168.7,1065.8 L147.3,1068.0 Z" fill="#ee7800"/>
<path d="M147.3,1068.0 L168.7,1065.8 L171.1,1109.8 L149.7,1112.0 Z" fill="#f8b62d"/>
<path d="M149.7,1112.0 L171.1,1109.8 L173.7,1156.3 L152.3,1158.5 Z" fill="#fff100"/>
<path d="M152.3,1158.5 L173.7,1156.3 L176.0,1197.8 L154.6,1200.0 Z" fill="#009944"/>
<path d="M154.6,1200.0 L176.0,1197.8 L178.4,1241.8 L157.0,1244.0 Z" fill="#009e96"/>
<path d="M157.0,1244.0 L178.4,1241.8 L180.7,1282.8 L159.3,1285.0 Z" fill="#00a0e9"/>
<path d="M159.3,1285.0 L180.7,1282.8 L183.1,1326.3 L161.7,1328.5 Z" fill="#0068b7"/>
<path d="M161.7,1328.5 L183.1,1326.3 L185.0,1361.0 L164.0,1369.0 Z" fill="#1d2088"/>
<line x1="139.5" y1="928.6" x2="164.0" y2="1369.0" stroke="#231815" stroke-linecap="round" fill="none" stroke-width="3"/>
<line x1="161" y1="927" x2="185" y2="1361" stroke="#231815" stroke-linecap="round" fill="none" stroke-width="2.6"/>
<line x1="139.6" y1="929.5" x2="125.6" y2="931.0" stroke="#231815" stroke-linecap="round" fill="none" stroke-width="3"/>
<line x1="142.2" y1="977.5" x2="116.2" y2="980.7" stroke="#231815" stroke-linecap="round" fill="none" stroke-width="3"/>
<line x1="144.8" y1="1023.0" x2="130.8" y2="1024.5" stroke="#231815" stroke-linecap="round" fill="none" stroke-width="3"/>
<line x1="147.3" y1="1068.0" x2="121.3" y2="1071.2" stroke="#231815" stroke-linecap="round" fill="none" stroke-width="3"/>
<line x1="149.8" y1="1114.0" x2="135.8" y2="1115.5" stroke="#231815" stroke-linecap="round" fill="none" stroke-width="3"/>
<line x1="152.3" y1="1158.5" x2="126.3" y2="1161.7" stroke="#231815" stroke-linecap="round" fill="none" stroke-width="3"/>
<line x1="154.6" y1="1200.5" x2="140.6" y2="1202.0" stroke="#231815" stroke-linecap="round" fill="none" stroke-width="3"/>
<line x1="157.0" y1="1244.0" x2="131.0" y2="1247.2" stroke="#231815" stroke-linecap="round" fill="none" stroke-width="3"/>
<line x1="159.4" y1="1285.5" x2="145.4" y2="1287.0" stroke="#231815" stroke-linecap="round" fill="none" stroke-width="3"/>
<line x1="161.8" y1="1329.0" x2="135.8" y2="1332.2" stroke="#231815" stroke-linecap="round" fill="none" stroke-width="3"/>
<text x="95.0" y="975.3" text-anchor="end" font-family="Liberation Sans, Arial, sans-serif" font-size="23" fill="#231815">0.05</text>
<text x="105.0" y="1068.3" text-anchor="end" font-family="Liberation Sans, Arial, sans-serif" font-size="23" fill="#231815">0.04</text>
<text x="111.0" y="1159.3" text-anchor="end" font-family="Liberation Sans, Arial, sans-serif" font-size="23" fill="#231815">0.03</text>
<text x="117.5" y="1248.3" text-anchor="end" font-family="Liberation Sans, Arial, sans-serif" font-size="23" fill="#231815">0.02</text>
<text x="120.5" y="1334.3" text-anchor="end" font-family="Liberation Sans, Arial, sans-serif" font-size="23" fill="#231815">0.01</text>
<line x1="164.0" y1="1369.0" x2="468.8" y2="1519.4" stroke="#231815" stroke-linecap="round" fill="none" stroke-width="3.2"/>
<line x1="468.8" y1="1519.4" x2="787.5" y2="1372.7" stroke="#231815" stroke-linecap="round" fill="none" stroke-width="3.2"/>
<line x1="164.0" y1="1369.0" x2="141.0" y2="1377.5" stroke="#231815" stroke-linecap="round" fill="none" stroke-width="3"/>
<line x1="184.5" y1="1379.1" x2="174.0" y2="1383.0" stroke="#231815" stroke-linecap="round" fill="none" stroke-width="3"/>
<line x1="205.7" y1="1389.6" x2="182.7" y2="1398.1" stroke="#231815" stroke-linecap="round" fill="none" stroke-width="3"/>
<line x1="227.7" y1="1400.4" x2="217.2" y2="1404.3" stroke="#231815" stroke-linecap="round" fill="none" stroke-width="3"/>
<line x1="250.5" y1="1411.7" x2="227.5" y2="1420.2" stroke="#231815" stroke-linecap="round" fill="none" stroke-width="3"/>
<line x1="274.2" y1="1423.4" x2="263.7" y2="1427.3" stroke="#231815" stroke-linecap="round" fill="none" stroke-width="3"/>
<line x1="298.7" y1="1435.5" x2="275.7" y2="1444.0" stroke="#231815" stroke-linecap="round" fill="none" stroke-width="3"/>
<line x1="324.3" y1="1448.1" x2="313.8" y2="1452.0" stroke="#231815" stroke-linecap="round" fill="none" stroke-width="3"/>
<line x1="350.9" y1="1461.2" x2="327.9" y2="1469.7" stroke="#231815" stroke-linecap="round" fill="none" stroke-width="3"/>
<line x1="378.5" y1="1474.9" x2="368.0" y2="1478.8" stroke="#231815" stroke-linecap="round" fill="none" stroke-width="3"/>
<line x1="407.4" y1="1489.1" x2="384.4" y2="1497.6" stroke="#231815" stroke-linecap="round" fill="none" stroke-width="3"/>
<line x1="437.4" y1="1503.9" x2="426.9" y2="1507.8" stroke="#231815" stroke-linecap="round" fill="none" stroke-width="3"/>
<line x1="468.8" y1="1519.4" x2="445.8" y2="1527.9" stroke="#231815" stroke-linecap="round" fill="none" stroke-width="3"/>
<line x1="468.8" y1="1519.4" x2="479.8" y2="1524.4" stroke="#231815" stroke-linecap="round" fill="none" stroke-width="3"/>
<line x1="512.0" y1="1499.5" x2="534.5" y2="1509.5" stroke="#231815" stroke-linecap="round" fill="none" stroke-width="3"/>
<line x1="552.9" y1="1480.7" x2="563.9" y2="1485.7" stroke="#231815" stroke-linecap="round" fill="none" stroke-width="3"/>
<line x1="591.7" y1="1462.8" x2="614.2" y2="1472.8" stroke="#231815" stroke-linecap="round" fill="none" stroke-width="3"/>
<line x1="628.4" y1="1445.9" x2="639.4" y2="1450.9" stroke="#231815" stroke-linecap="round" fill="none" stroke-width="3"/>
<line x1="663.4" y1="1429.8" x2="685.9" y2="1439.8" stroke="#231815" stroke-linecap="round" fill="none" stroke-width="3"/>
<line x1="696.7" y1="1414.5" x2="707.7" y2="1419.5" stroke="#231815" stroke-linecap="round" fill="none" stroke-width="3"/>
<line x1="728.4" y1="1399.9" x2="750.9" y2="1409.9" stroke="#231815" stroke-linecap="round" fill="none" stroke-width="3"/>
<line x1="758.6" y1="1386.0" x2="769.6" y2="1391.0" stroke="#231815" stroke-linecap="round" fill="none" stroke-width="3"/>
<line x1="787.5" y1="1372.7" x2="810.0" y2="1382.7" stroke="#231815" stroke-linecap="round" fill="none" stroke-width="3"/>
<text x="117.0" y="1393.3" text-anchor="middle" font-family="Liberation Sans, Arial, sans-serif" font-size="23" fill="#231815">0.5</text>
<text x="161.0" y="1413.1" text-anchor="middle" font-family="Liberation Sans, Arial, sans-serif" font-size="23" fill="#231815">1.0</text>
<text x="206.8" y="1438.3" text-anchor="middle" font-family="Liberation Sans, Arial, sans-serif" font-size="23" fill="#231815">1.5</text>
<text x="255.0" y="1463.3" text-anchor="middle" font-family="Liberation Sans, Arial, sans-serif" font-size="23" fill="#231815">2.0</text>
<text x="308.7" y="1494.3" text-anchor="middle" font-family="Liberation Sans, Arial, sans-serif" font-size="23" fill="#231815">2.5</text>
<text x="366.2" y="1523.3" text-anchor="middle" font-family="Liberation Sans, Arial, sans-serif" font-size="23" fill="#231815">3.0</text>
<text x="430.0" y="1554.8" text-anchor="middle" font-family="Liberation Sans, Arial, sans-serif" font-size="23" fill="#231815">3.5</text>
<text x="566.0" y="1530.3" text-anchor="middle" font-family="Liberation Sans, Arial, sans-serif" font-size="23" fill="#231815">1.2</text>
<text x="647.3" y="1490.3" text-anchor="middle" font-family="Liberation Sans, Arial, sans-serif" font-size="23" fill="#231815">1.6</text>
<text x="719.7" y="1454.3" text-anchor="middle" font-family="Liberation Sans, Arial, sans-serif" font-size="23" fill="#231815">2.0</text>
<text x="783.6" y="1422.3" text-anchor="middle" font-family="Liberation Sans, Arial, sans-serif" font-size="23" fill="#231815">2.4</text>
<text x="844.0" y="1393.6" text-anchor="middle" font-family="Liberation Sans, Arial, sans-serif" font-size="23" fill="#231815">2.8</text>
<text transform="translate(86.5,1433.5) rotate(24.7) skewX(-3)" font-size="31" font-family="Liberation Sans, Noto Sans CJK SC, Arial, sans-serif" fill="#231815" stroke="#231815" stroke-width="0.7">Dimension ratio（H/R）</text>
<text transform="translate(563,1571) rotate(-27.6)" font-size="31" font-family="Liberation Sans, Noto Sans CJK SC, Arial, sans-serif" fill="#231815" stroke="#231815" stroke-width="0.7">Voltage ratio (V<tspan font-size="21" font-weight="700" dy="7" dx="-3" stroke="none">nozzle</tspan><tspan dy="-7" font-style="italic"> /</tspan>V<tspan font-size="21" font-weight="700" dy="7" dx="-3" stroke="none">upper</tspan><tspan dy="-7">)</tspan></text>
<text transform="translate(55.3,1358.5) rotate(-90)" font-size="31" font-family="Liberation Sans, Noto Sans CJK SC, Arial, sans-serif" fill="#231815" stroke="#231815" stroke-width="0.7">Deviation ratio (r<tspan font-size="20" font-weight="700" dy="3" dx="3" stroke="none">s</tspan><tspan dy="-3" dx="1">/H)</tspan></text>
<text x="9.5" y="913" letter-spacing="4.5" font-family="Liberation Sans, Arial, sans-serif" font-size="52" fill="#231815">(b)</text>
<clipPath id="pc0"><rect x="36.9" y="1579" width="183.1" height="341"/></clipPath>
<g clip-path="url(#pc0)">
<rect x="36.9" y="1579" width="183.1" height="341" fill="url(#pbg)"/>
<rect x="36.9" y="1721.0" width="183.1" height="31.8" fill="url(#sh0)"/>
<ellipse cx="129.2" cy="1736.3" rx="85.2" ry="3.8" fill="#0c0e08" filter="url(#bl2)"/>
<rect x="33.9" y="1752.8" width="189.1" height="85.7" fill="#070907" filter="url(#bl1)"/>
<rect x="36.9" y="1840.5" width="183.1" height="79.5" fill="url(#lz0)"/>
<rect x="36.9" y="1875.6" width="183.1" height="1.8" fill="#2a2c1c" opacity="0.90" filter="url(#bl2)"/>
<clipPath id="jc0"><rect x="0" y="1579" width="904" height="173.8"/><rect x="0" y="1840.5" width="904" height="79.5"/></clipPath>
<g clip-path="url(#jc0)"><path d="M154.7,1607 C152,1650 146,1700 139.4,1733 L137.5,1760" stroke="#8f976a" stroke-width="0.9" fill="none" opacity="0.7"/></g>
<path d="M148.1,1575 L148.1,1585 C147.2,1589 147.3,1594.5 148.6,1598 C150,1601.8 153,1604.3 154.6,1606.8 L155.4,1606.8 C157,1604.3 160.6,1601.8 161.9,1598 C163,1594.5 163,1589 161.6,1585 L161.6,1575 Z" fill="#0b0d09" filter="url(#bl2)"/>
<path d="M136.0,1587.8C135.7,1591.5 134.7,1603.0 134.0,1610.0C133.3,1617.0 133.4,1620.0 132.0,1630.0C130.6,1640.0 127.7,1657.5 125.5,1670.0C123.3,1682.5 120.7,1695.8 119.0,1705.0C117.3,1714.2 116.2,1717.5 115.2,1725.0C114.2,1732.5 113.7,1737.5 112.7,1750.0C111.8,1762.5 110.5,1778.9 109.5,1800.0C108.5,1821.1 107.2,1863.9 106.8,1876.7" stroke="#4c4a6c" stroke-width="2" stroke-dasharray="11,11.1" stroke-dashoffset="5" fill="none"/><path d="M179.7,1587.8C179.3,1591.5 178.0,1603.0 177.3,1610.0C176.7,1617.0 177.2,1620.0 175.8,1630.0C174.5,1640.0 171.4,1657.5 169.2,1670.0C167.0,1682.5 164.4,1695.8 162.7,1705.0C161.0,1714.2 160.0,1717.5 158.9,1725.0C157.8,1732.5 157.2,1737.5 156.2,1750.0C155.2,1762.5 153.8,1778.9 152.8,1800.0C151.8,1821.1 150.6,1863.9 150.1,1876.7" stroke="#4c4a6c" stroke-width="2" stroke-dasharray="11,11.1" stroke-dashoffset="5" fill="none"/><clipPath id="bd0"><rect x="0" y="1752.8" width="904" height="85.7"/></clipPath><g clip-path="url(#bd0)"><path d="M136.0,1587.8C135.7,1591.5 134.7,1603.0 134.0,1610.0C133.3,1617.0 133.4,1620.0 132.0,1630.0C130.6,1640.0 127.7,1657.5 125.5,1670.0C123.3,1682.5 120.7,1695.8 119.0,1705.0C117.3,1714.2 116.2,1717.5 115.2,1725.0C114.2,1732.5 113.7,1737.5 112.7,1750.0C111.8,1762.5 110.5,1778.9 109.5,1800.0C108.5,1821.1 107.2,1863.9 106.8,1876.7" stroke="#a4a4b2" stroke-width="2" stroke-dasharray="11,11.1" stroke-dashoffset="5" fill="none"/><path d="M179.7,1587.8C179.3,1591.5 178.0,1603.0 177.3,1610.0C176.7,1617.0 177.2,1620.0 175.8,1630.0C174.5,1640.0 171.4,1657.5 169.2,1670.0C167.0,1682.5 164.4,1695.8 162.7,1705.0C161.0,1714.2 160.0,1717.5 158.9,1725.0C157.8,1732.5 157.2,1737.5 156.2,1750.0C155.2,1762.5 153.8,1778.9 152.8,1800.0C151.8,1821.1 150.6,1863.9 150.1,1876.7" stroke="#a4a4b2" stroke-width="2" stroke-dasharray="11,11.1" stroke-dashoffset="5" fill="none"/></g>
</g>
<text transform="translate(59.2,1620.3) scale(1.50,1.13)" text-anchor="middle" font-family="DejaVu Serif, Noto Serif CJK SC, serif" font-size="30" fill="#231815" stroke="#231815" stroke-width="0.7">Ⅰ</text>
<text x="38.1" y="1648.9" font-size="19.3" font-family="Liberation Sans, Arial, sans-serif" fill="#231815" stroke="#231815" stroke-width="0.35">H/R=1.77</text>
<text x="38.7" y="1676.9" font-size="19.5" font-family="Liberation Sans, Arial, sans-serif" fill="#231815" stroke="#231815" stroke-width="0.35">V<tspan font-size="15.5">nozzle</tspan></text>
<line x1="38.1" y1="1682.0" x2="97.1" y2="1682.0" stroke="#231815" stroke-width="1.1"/>
<text x="38.7" y="1702.3" font-size="19.5" font-family="Liberation Sans, Arial, sans-serif" fill="#231815" stroke="#231815" stroke-width="0.35">V<tspan font-size="15.5">upper</tspan></text>
<text x="41.5" y="1726.5" font-size="19.3" font-family="Liberation Sans, Arial, sans-serif" fill="#231815" stroke="#231815" stroke-width="0.35">=1.74</text>
<clipPath id="pc1"><rect x="252.4" y="1579" width="187.8" height="341"/></clipPath>
<g clip-path="url(#pc1)">
<rect x="252.4" y="1579" width="187.8" height="341" fill="url(#pbg)"/>
<rect x="252.4" y="1744.0" width="187.8" height="19.3" fill="url(#sh1)"/>
<ellipse cx="346.9" cy="1752.5" rx="87.5" ry="2.1" fill="#0c0e08" filter="url(#bl2)"/>
<rect x="249.4" y="1763.3" width="193.8" height="84.7" fill="#070907" filter="url(#bl1)"/>
<rect x="252.4" y="1850.0" width="187.8" height="70.0" fill="url(#lz1)"/>
<rect x="252.4" y="1881.3" width="187.8" height="1.8" fill="#2a2c1c" opacity="0.90" filter="url(#bl2)"/>
<clipPath id="jc1"><rect x="0" y="1579" width="904" height="184.3"/><rect x="0" y="1850.0" width="904" height="70.0"/></clipPath>
<g clip-path="url(#jc1)"><path d="M346.8,1710 L348.5,1753 C352,1800 368,1850 380,1882" stroke="#8f976a" stroke-width="0.9" fill="none" opacity="0.7"/></g>
<path d="M338.7,1575 L338.7,1667 C338.5,1674 334.8,1680 334.8,1690 C334.8,1699 340,1704.5 346,1710.8 L347,1710.8 C352,1704.5 355.9,1699 355.9,1690 C355.9,1680 352,1674 351.8,1667 L351.8,1575 Z" fill="#0b0d09" filter="url(#bl2)"/>
<path d="M318.3,1688.3C319.2,1695.2 321.4,1715.1 323.5,1730.0C325.6,1744.9 327.9,1761.8 330.7,1777.6C333.5,1793.4 335.8,1807.7 340.2,1825.1C344.6,1842.5 354.4,1872.7 357.3,1882.2" stroke="#4c4a6c" stroke-width="2" stroke-dasharray="11,11.1" stroke-dashoffset="5" fill="none"/><path d="M367.9,1688.3C368.8,1695.2 370.9,1715.1 373.0,1730.0C375.1,1744.9 377.4,1761.8 380.2,1777.6C383.0,1793.4 385.3,1807.7 389.7,1825.1C394.1,1842.5 403.9,1872.7 406.8,1882.2" stroke="#4c4a6c" stroke-width="2" stroke-dasharray="11,11.1" stroke-dashoffset="5" fill="none"/><clipPath id="bd1"><rect x="0" y="1763.3" width="904" height="84.7"/></clipPath><g clip-path="url(#bd1)"><path d="M318.3,1688.3C319.2,1695.2 321.4,1715.1 323.5,1730.0C325.6,1744.9 327.9,1761.8 330.7,1777.6C333.5,1793.4 335.8,1807.7 340.2,1825.1C344.6,1842.5 354.4,1872.7 357.3,1882.2" stroke="#a4a4b2" stroke-width="2" stroke-dasharray="11,11.1" stroke-dashoffset="5" fill="none"/><path d="M367.9,1688.3C368.8,1695.2 370.9,1715.1 373.0,1730.0C375.1,1744.9 377.4,1761.8 380.2,1777.6C383.0,1793.4 385.3,1807.7 389.7,1825.1C394.1,1842.5 403.9,1872.7 406.8,1882.2" stroke="#a4a4b2" stroke-width="2" stroke-dasharray="11,11.1" stroke-dashoffset="5" fill="none"/></g>
</g>
<text transform="translate(277.0,1619.5) scale(0.98,1.13)" text-anchor="middle" font-family="DejaVu Serif, Noto Serif CJK SC, serif" font-size="30" fill="#231815" stroke="#231815" stroke-width="0.7">Ⅱ</text>
<text x="254.7" y="1646.3" font-size="19.3" font-family="Liberation Sans, Arial, sans-serif" fill="#231815" stroke="#231815" stroke-width="0.35">H/R=0.74</text>
<text x="255.3" y="1678.0" font-size="19.5" font-family="Liberation Sans, Arial, sans-serif" fill="#231815" stroke="#231815" stroke-width="0.35">V<tspan font-size="15.5">nozzle</tspan></text>
<line x1="254.7" y1="1683.0" x2="313.7" y2="1683.0" stroke="#231815" stroke-width="1.1"/>
<text x="255.3" y="1702.3" font-size="19.5" font-family="Liberation Sans, Arial, sans-serif" fill="#231815" stroke="#231815" stroke-width="0.35">V<tspan font-size="15.5">upper</tspan></text>
<text x="257.7" y="1726.5" font-size="19.3" font-family="Liberation Sans, Arial, sans-serif" fill="#231815" stroke="#231815" stroke-width="0.35">=1.79</text>
<clipPath id="pc2"><rect x="471.7" y="1579" width="183.3" height="341"/></clipPath>
<g clip-path="url(#pc2)">
<rect x="471.7" y="1579" width="183.3" height="341" fill="url(#pbg)"/>
<rect x="471.7" y="1742.0" width="183.3" height="20.3" fill="url(#sh2)"/>
<ellipse cx="562.4" cy="1750.3" rx="85.7" ry="1.8" fill="#0c0e08" filter="url(#bl2)"/>
<rect x="468.7" y="1762.3" width="189.3" height="84.3" fill="#070907" filter="url(#bl1)"/>
<rect x="471.7" y="1848.6" width="183.3" height="71.4" fill="url(#lz2)"/>
<rect x="471.7" y="1871.8" width="183.3" height="1.8" fill="#2a2c1c" opacity="0.25" filter="url(#bl2)"/>
<clipPath id="jc2"><rect x="0" y="1579" width="904" height="183.3"/><rect x="0" y="1848.6" width="904" height="71.4"/></clipPath>
<g clip-path="url(#jc2)"><path d="M563.2,1622 L562.6,1748" stroke="#8f976a" stroke-width="0.9" fill="none" opacity="0.7"/></g>
<path d="M556.7,1575 L556.7,1592 C556.5,1596 554.6,1599 554.6,1605 C554.6,1614 558.5,1618 562.8,1622.3 L563.6,1622.3 C568,1618 572.2,1614 572.2,1605 C572.2,1599 570.2,1596 570,1592 L570,1575 Z" fill="#0b0d09" filter="url(#bl2)"/>
<ellipse cx="564.7" cy="1865.2" rx="44.2" ry="30.4" stroke="#7c7c98" stroke-width="1.8" stroke-dasharray="13,9.5" fill="none"/><clipPath id="be2"><rect x="0" y="1762" width="904" height="85.5"/></clipPath><g clip-path="url(#be2)"><ellipse cx="564.7" cy="1865.2" rx="44.2" ry="30.4" stroke="#b4b4c4" stroke-width="1.8" stroke-dasharray="13,9.5" fill="none"/></g>
</g>
<text transform="translate(498.4,1618.5) scale(0.90,1.13)" text-anchor="middle" font-family="DejaVu Serif, Noto Serif CJK SC, serif" font-size="30" fill="#231815" stroke="#231815" stroke-width="0.7">Ⅲ</text>
<text x="472.7" y="1646.3" font-size="19.3" font-family="Liberation Sans, Arial, sans-serif" fill="#231815" stroke="#231815" stroke-width="0.35">H/R=1.77</text>
<text x="473.3" y="1676.9" font-size="19.5" font-family="Liberation Sans, Arial, sans-serif" fill="#231815" stroke="#231815" stroke-width="0.35">V<tspan font-size="15.5">nozzle</tspan></text>
<line x1="472.7" y1="1682.0" x2="531.7" y2="1682.0" stroke="#231815" stroke-width="1.1"/>
<text x="473.3" y="1701.0" font-size="19.5" font-family="Liberation Sans, Arial, sans-serif" fill="#231815" stroke="#231815" stroke-width="0.35">V<tspan font-size="15.5">upper</tspan></text>
<text x="477.8" y="1725.7" font-size="19.3" font-family="Liberation Sans, Arial, sans-serif" fill="#231815" stroke="#231815" stroke-width="0.35">=2.58</text>
<clipPath id="pc3"><rect x="683.6" y="1579" width="183.2" height="341"/></clipPath>
<g clip-path="url(#pc3)">
<rect x="683.6" y="1579" width="183.2" height="341" fill="url(#pbg)"/>
<rect x="683.6" y="1742.0" width="183.2" height="20.3" fill="url(#sh3)"/>
<ellipse cx="774.8" cy="1750.3" rx="85.2" ry="1.8" fill="#0c0e08" filter="url(#bl2)"/>
<rect x="680.6" y="1762.3" width="189.2" height="85.7" fill="#070907" filter="url(#bl1)"/>
<rect x="683.6" y="1850.0" width="183.2" height="70.0" fill="url(#lz3)"/>
<rect x="683.6" y="1873.1" width="183.2" height="1.8" fill="#2a2c1c" opacity="0.25" filter="url(#bl2)"/>
<clipPath id="jc3"><rect x="0" y="1579" width="904" height="183.3"/><rect x="0" y="1850.0" width="904" height="70.0"/></clipPath>
<g clip-path="url(#jc3)"><path d="M776,1624 L776.3,1748" stroke="#8f976a" stroke-width="0.9" fill="none" opacity="0.7"/></g>
<path d="M768.3,1575 L768.3,1590 C768,1596 766.8,1600 766.8,1607.5 C766.8,1616 771,1620.5 775.4,1625.3 L776.2,1625.3 C780,1620.5 784.2,1616 784.2,1607.5 C784.2,1600 782.8,1596 782.3,1590 L782.3,1575 Z" fill="#0b0d09" filter="url(#bl2)"/>
<ellipse cx="776.6" cy="1868.7" rx="44" ry="30.2" stroke="#7c7c98" stroke-width="1.8" stroke-dasharray="13,9.5" fill="none"/><clipPath id="be3"><rect x="0" y="1762" width="904" height="87"/></clipPath><g clip-path="url(#be3)"><ellipse cx="776.6" cy="1868.7" rx="44" ry="30.2" stroke="#b4b4c4" stroke-width="1.8" stroke-dasharray="13,9.5" fill="none"/></g>
</g>
<text transform="translate(704.5,1619.0) scale(0.86,1.13)" text-anchor="middle" font-family="DejaVu Serif, Noto Serif CJK SC, serif" font-size="30" fill="#231815" stroke="#231815" stroke-width="0.7">Ⅳ</text>
<text x="685.5" y="1648.5" font-size="19.3" font-family="Liberation Sans, Arial, sans-serif" fill="#231815" stroke="#231815" stroke-width="0.35">H/R=1.77</text>
<text x="685.3" y="1682.5" font-size="19.5" font-family="Liberation Sans, Arial, sans-serif" fill="#231815" stroke="#231815" stroke-width="0.35">V<tspan font-size="15.5">upper</tspan></text>
<text x="688" y="1707.7" font-size="19.3" font-family="Liberation Sans, Arial, sans-serif" fill="#231815" stroke="#231815" stroke-width="0.35">=0</text>
</svg></body></html>
